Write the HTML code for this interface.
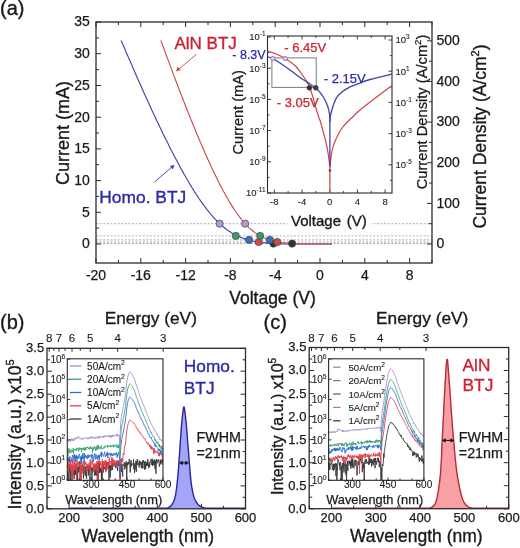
<!DOCTYPE html>
<html><head><meta charset="utf-8"><style>
html,body{margin:0;padding:0;background:#fff;}
svg{display:block;font-family:"Liberation Sans", Arial, sans-serif;}
</style></head><body>
<svg width="520" height="548" viewBox="0 0 520 548">
<rect width="520" height="548" fill="#fff"/>
<text x="0" y="14.6" font-size="20" text-anchor="start" fill="#1a1a1a" stroke="#1a1a1a" stroke-width="0.35">(a)</text>
<line x1="96" y1="223.7" x2="432" y2="223.7" stroke="#b8a6c0" stroke-width="1" stroke-dasharray="2,1.6"/>
<line x1="96" y1="235.9" x2="432" y2="235.9" stroke="#a8b4b4" stroke-width="1" stroke-dasharray="2,1.6"/>
<line x1="96" y1="239.9" x2="432" y2="239.9" stroke="#a8acbc" stroke-width="1" stroke-dasharray="2,1.6"/>
<line x1="96" y1="242" x2="432" y2="242" stroke="#b8a4a4" stroke-width="1" stroke-dasharray="2,1.6"/>
<line x1="96" y1="243.6" x2="432" y2="243.6" stroke="#a0a0a0" stroke-width="1" stroke-dasharray="2,1.6"/>
<line x1="96" y1="244" x2="101" y2="244" stroke="#2b2b2b" stroke-width="1"/>
<line x1="96" y1="228.1" x2="99" y2="228.1" stroke="#2b2b2b" stroke-width="1"/>
<line x1="96" y1="212.3" x2="101" y2="212.3" stroke="#2b2b2b" stroke-width="1"/>
<line x1="96" y1="196.4" x2="99" y2="196.4" stroke="#2b2b2b" stroke-width="1"/>
<line x1="96" y1="180.6" x2="101" y2="180.6" stroke="#2b2b2b" stroke-width="1"/>
<line x1="96" y1="164.7" x2="99" y2="164.7" stroke="#2b2b2b" stroke-width="1"/>
<line x1="96" y1="148.9" x2="101" y2="148.9" stroke="#2b2b2b" stroke-width="1"/>
<line x1="96" y1="133" x2="99" y2="133" stroke="#2b2b2b" stroke-width="1"/>
<line x1="96" y1="117.2" x2="101" y2="117.2" stroke="#2b2b2b" stroke-width="1"/>
<line x1="96" y1="101.3" x2="99" y2="101.3" stroke="#2b2b2b" stroke-width="1"/>
<line x1="96" y1="85.5" x2="101" y2="85.5" stroke="#2b2b2b" stroke-width="1"/>
<line x1="96" y1="69.6" x2="99" y2="69.6" stroke="#2b2b2b" stroke-width="1"/>
<line x1="96" y1="53.7" x2="101" y2="53.7" stroke="#2b2b2b" stroke-width="1"/>
<line x1="96" y1="37.9" x2="99" y2="37.9" stroke="#2b2b2b" stroke-width="1"/>
<line x1="96" y1="22" x2="101" y2="22" stroke="#2b2b2b" stroke-width="1"/>
<line x1="96" y1="263" x2="96" y2="258" stroke="#2b2b2b" stroke-width="1"/>
<line x1="96" y1="22" x2="96" y2="27" stroke="#2b2b2b" stroke-width="1"/>
<line x1="118.4" y1="263" x2="118.4" y2="260" stroke="#2b2b2b" stroke-width="1"/>
<line x1="118.4" y1="22" x2="118.4" y2="25" stroke="#2b2b2b" stroke-width="1"/>
<line x1="140.8" y1="263" x2="140.8" y2="258" stroke="#2b2b2b" stroke-width="1"/>
<line x1="140.8" y1="22" x2="140.8" y2="27" stroke="#2b2b2b" stroke-width="1"/>
<line x1="163.2" y1="263" x2="163.2" y2="260" stroke="#2b2b2b" stroke-width="1"/>
<line x1="163.2" y1="22" x2="163.2" y2="25" stroke="#2b2b2b" stroke-width="1"/>
<line x1="185.6" y1="263" x2="185.6" y2="258" stroke="#2b2b2b" stroke-width="1"/>
<line x1="185.6" y1="22" x2="185.6" y2="27" stroke="#2b2b2b" stroke-width="1"/>
<line x1="208" y1="263" x2="208" y2="260" stroke="#2b2b2b" stroke-width="1"/>
<line x1="208" y1="22" x2="208" y2="25" stroke="#2b2b2b" stroke-width="1"/>
<line x1="230.4" y1="263" x2="230.4" y2="258" stroke="#2b2b2b" stroke-width="1"/>
<line x1="230.4" y1="22" x2="230.4" y2="27" stroke="#2b2b2b" stroke-width="1"/>
<line x1="252.8" y1="263" x2="252.8" y2="260" stroke="#2b2b2b" stroke-width="1"/>
<line x1="252.8" y1="22" x2="252.8" y2="25" stroke="#2b2b2b" stroke-width="1"/>
<line x1="275.2" y1="263" x2="275.2" y2="258" stroke="#2b2b2b" stroke-width="1"/>
<line x1="275.2" y1="22" x2="275.2" y2="27" stroke="#2b2b2b" stroke-width="1"/>
<line x1="297.6" y1="263" x2="297.6" y2="260" stroke="#2b2b2b" stroke-width="1"/>
<line x1="297.6" y1="22" x2="297.6" y2="25" stroke="#2b2b2b" stroke-width="1"/>
<line x1="320" y1="263" x2="320" y2="258" stroke="#2b2b2b" stroke-width="1"/>
<line x1="320" y1="22" x2="320" y2="27" stroke="#2b2b2b" stroke-width="1"/>
<line x1="342.4" y1="263" x2="342.4" y2="260" stroke="#2b2b2b" stroke-width="1"/>
<line x1="342.4" y1="22" x2="342.4" y2="25" stroke="#2b2b2b" stroke-width="1"/>
<line x1="364.8" y1="263" x2="364.8" y2="258" stroke="#2b2b2b" stroke-width="1"/>
<line x1="364.8" y1="22" x2="364.8" y2="27" stroke="#2b2b2b" stroke-width="1"/>
<line x1="387.2" y1="263" x2="387.2" y2="260" stroke="#2b2b2b" stroke-width="1"/>
<line x1="387.2" y1="22" x2="387.2" y2="25" stroke="#2b2b2b" stroke-width="1"/>
<line x1="409.6" y1="263" x2="409.6" y2="258" stroke="#2b2b2b" stroke-width="1"/>
<line x1="409.6" y1="22" x2="409.6" y2="27" stroke="#2b2b2b" stroke-width="1"/>
<line x1="432" y1="263" x2="432" y2="260" stroke="#2b2b2b" stroke-width="1"/>
<line x1="432" y1="22" x2="432" y2="25" stroke="#2b2b2b" stroke-width="1"/>
<line x1="432" y1="244" x2="427" y2="244" stroke="#2b2b2b" stroke-width="1"/>
<line x1="432" y1="223.7" x2="429" y2="223.7" stroke="#2b2b2b" stroke-width="1"/>
<line x1="432" y1="203.4" x2="427" y2="203.4" stroke="#2b2b2b" stroke-width="1"/>
<line x1="432" y1="183.1" x2="429" y2="183.1" stroke="#2b2b2b" stroke-width="1"/>
<line x1="432" y1="162.7" x2="427" y2="162.7" stroke="#2b2b2b" stroke-width="1"/>
<line x1="432" y1="142.4" x2="429" y2="142.4" stroke="#2b2b2b" stroke-width="1"/>
<line x1="432" y1="122.1" x2="427" y2="122.1" stroke="#2b2b2b" stroke-width="1"/>
<line x1="432" y1="101.8" x2="429" y2="101.8" stroke="#2b2b2b" stroke-width="1"/>
<line x1="432" y1="81.5" x2="427" y2="81.5" stroke="#2b2b2b" stroke-width="1"/>
<line x1="432" y1="61.2" x2="429" y2="61.2" stroke="#2b2b2b" stroke-width="1"/>
<line x1="432" y1="40.8" x2="427" y2="40.8" stroke="#2b2b2b" stroke-width="1"/>
<rect x="96" y="22" width="336" height="241" fill="none" stroke="#2b2b2b" stroke-width="1.3"/>
<text x="89.8" y="248.3" font-size="14" text-anchor="end" fill="#1a1a1a" stroke="#1a1a1a" stroke-width="0.25">0</text>
<text x="89.8" y="216.6" font-size="14" text-anchor="end" fill="#1a1a1a" stroke="#1a1a1a" stroke-width="0.25">5</text>
<text x="89.8" y="184.9" font-size="14" text-anchor="end" fill="#1a1a1a" stroke="#1a1a1a" stroke-width="0.25">10</text>
<text x="89.8" y="153.2" font-size="14" text-anchor="end" fill="#1a1a1a" stroke="#1a1a1a" stroke-width="0.25">15</text>
<text x="89.8" y="121.5" font-size="14" text-anchor="end" fill="#1a1a1a" stroke="#1a1a1a" stroke-width="0.25">20</text>
<text x="89.8" y="89.8" font-size="14" text-anchor="end" fill="#1a1a1a" stroke="#1a1a1a" stroke-width="0.25">25</text>
<text x="89.8" y="58" font-size="14" text-anchor="end" fill="#1a1a1a" stroke="#1a1a1a" stroke-width="0.25">30</text>
<text x="89.8" y="26.3" font-size="14" text-anchor="end" fill="#1a1a1a" stroke="#1a1a1a" stroke-width="0.25">35</text>
<text x="96" y="280.4" font-size="14" text-anchor="middle" fill="#1a1a1a" stroke="#1a1a1a" stroke-width="0.25">-20</text>
<text x="140.8" y="280.4" font-size="14" text-anchor="middle" fill="#1a1a1a" stroke="#1a1a1a" stroke-width="0.25">-16</text>
<text x="185.6" y="280.4" font-size="14" text-anchor="middle" fill="#1a1a1a" stroke="#1a1a1a" stroke-width="0.25">-12</text>
<text x="230.4" y="280.4" font-size="14" text-anchor="middle" fill="#1a1a1a" stroke="#1a1a1a" stroke-width="0.25">-8</text>
<text x="275.2" y="280.4" font-size="14" text-anchor="middle" fill="#1a1a1a" stroke="#1a1a1a" stroke-width="0.25">-4</text>
<text x="320" y="280.4" font-size="14" text-anchor="middle" fill="#1a1a1a" stroke="#1a1a1a" stroke-width="0.25">0</text>
<text x="364.8" y="280.4" font-size="14" text-anchor="middle" fill="#1a1a1a" stroke="#1a1a1a" stroke-width="0.25">4</text>
<text x="409.6" y="280.4" font-size="14" text-anchor="middle" fill="#1a1a1a" stroke="#1a1a1a" stroke-width="0.25">8</text>
<text x="436.5" y="248.3" font-size="14" text-anchor="start" fill="#1a1a1a" stroke="#1a1a1a" stroke-width="0.25">0</text>
<text x="436.5" y="207.7" font-size="14" text-anchor="start" fill="#1a1a1a" stroke="#1a1a1a" stroke-width="0.25">100</text>
<text x="436.5" y="167" font-size="14" text-anchor="start" fill="#1a1a1a" stroke="#1a1a1a" stroke-width="0.25">200</text>
<text x="436.5" y="126.4" font-size="14" text-anchor="start" fill="#1a1a1a" stroke="#1a1a1a" stroke-width="0.25">300</text>
<text x="436.5" y="85.8" font-size="14" text-anchor="start" fill="#1a1a1a" stroke="#1a1a1a" stroke-width="0.25">400</text>
<text x="436.5" y="45.1" font-size="14" text-anchor="start" fill="#1a1a1a" stroke="#1a1a1a" stroke-width="0.25">500</text>
<text x="68.5" y="133" font-size="18" text-anchor="middle" fill="#1a1a1a" stroke="#1a1a1a" stroke-width="0.35" transform="rotate(-90 68.5 133)">Current (mA)</text>
<text x="272.5" y="303.7" font-size="17.5" text-anchor="middle" fill="#1a1a1a" stroke="#1a1a1a" stroke-width="0.35">Voltage (V)</text>
<text x="485.5" y="136.5" font-size="17.5" text-anchor="middle" fill="#1a1a1a" stroke="#1a1a1a" stroke-width="0.35" transform="rotate(-90 485.5 136.5)">Current Density (A/cm<tspan font-size="11" dy="-7">2</tspan><tspan dy="7">)</tspan></text>
<path d="M121.1,40.4 L122.7,44.1 L124.3,47.8 L125.8,51.4 L127.4,55 L128.9,58.6 L130.5,62.1 L132,65.6 L133.5,69.1 L135,72.5 L136.5,75.9 L137.9,79.2 L139.4,82.5 L140.9,85.8 L142.3,89 L143.7,92.2 L145.2,95.4 L146.6,98.5 L148,101.6 L149.4,104.7 L150.8,107.7 L152.1,110.7 L153.5,113.6 L154.9,116.5 L156.2,119.4 L157.6,122.2 L158.9,125 L160.2,127.8 L161.5,130.5 L162.8,133.2 L164.1,135.9 L165.4,138.5 L166.7,141.1 L168,143.6 L169.2,146.2 L170.5,148.7 L171.7,151.1 L173,153.5 L174.2,155.9 L175.4,158.2 L176.7,160.6 L177.9,162.8 L179.1,165.1 L180.3,167.3 L181.5,169.5 L182.7,171.6 L183.8,173.7 L185,175.8 L186.2,177.8 L187.3,179.8 L188.5,181.8 L189.7,183.7 L190.8,185.6 L191.9,187.5 L193.1,189.4 L194.2,191.2 L195.3,192.9 L196.5,194.7 L197.6,196.4 L198.7,198 L199.8,199.7 L200.9,201.3 L202,202.9 L203.2,204.4 L204.3,205.9 L205.4,207.4 L206.5,208.9 L207.6,210.3 L208.7,211.7 L209.8,213 L210.9,214.3 L212,215.6 L213.1,216.9 L214.2,218.1 L215.3,219.3 L216.5,220.5 L217.6,221.6 L218.7,222.7 L219.9,223.8 L221,224.8 L222.1,225.8 L223.3,226.8 L224.5,227.8 L225.6,228.7 L226.8,229.6 L228,230.5 L229.2,231.3 L230.5,232.1 L231.7,232.9 L233,233.6 L234.3,234.4 L235.6,235 L236.9,235.7 L238.3,236.4 L239.6,237 L241,237.5 L242.5,238.1 L244,238.6 L245.5,239.1 L247,239.6 L248.6,240 L250.2,240.5 L251.9,240.9 L253.7,241.2 L255.5,241.6 L257.3,241.9 L259.2,242.2 L261.2,242.5 L263.2,242.7 L265.3,242.9 L267.4,243.1 L269.5,243.3 L271.7,243.5 L273.8,243.6 L275.8,243.7 L277.7,243.8 L279.4,243.9 L280.8,243.9 L281.7,244 L282.3,244 L282.5,244 L332,244" fill="none" stroke="#4242aa" stroke-width="1.15" stroke-linejoin="round"/>
<path d="M160.9,40.4 L162.2,44.1 L163.6,47.8 L164.9,51.4 L166.2,55 L167.6,58.6 L168.9,62.1 L170.2,65.6 L171.5,69.1 L172.7,72.5 L174,75.9 L175.3,79.2 L176.5,82.5 L177.8,85.8 L179,89 L180.2,92.2 L181.5,95.4 L182.7,98.5 L183.9,101.6 L185.1,104.7 L186.3,107.7 L187.4,110.7 L188.6,113.6 L189.8,116.5 L190.9,119.4 L192.1,122.2 L193.2,125 L194.4,127.8 L195.5,130.5 L196.6,133.2 L197.7,135.9 L198.8,138.5 L199.9,141.1 L201,143.6 L202.1,146.2 L203.2,148.7 L204.2,151.1 L205.3,153.5 L206.3,155.9 L207.4,158.2 L208.4,160.6 L209.5,162.8 L210.5,165.1 L211.5,167.3 L212.5,169.5 L213.6,171.6 L214.6,173.7 L215.6,175.8 L216.6,177.8 L217.6,179.8 L218.5,181.8 L219.5,183.7 L220.5,185.6 L221.5,187.5 L222.5,189.4 L223.4,191.2 L224.4,192.9 L225.3,194.7 L226.3,196.4 L227.3,198 L228.2,199.7 L229.2,201.3 L230.1,202.9 L231.1,204.4 L232,205.9 L232.9,207.4 L233.9,208.9 L234.8,210.3 L235.8,211.7 L236.7,213 L237.6,214.3 L238.6,215.6 L239.5,216.9 L240.5,218.1 L241.4,219.3 L242.4,220.5 L243.3,221.6 L244.3,222.7 L245.3,223.8 L246.2,224.8 L247.2,225.8 L248.2,226.8 L249.2,227.8 L250.2,228.7 L251.2,229.6 L252.2,230.5 L253.3,231.3 L254.3,232.1 L255.4,232.9 L256.5,233.6 L257.6,234.4 L258.7,235 L259.8,235.7 L260.9,236.4 L262.1,237 L263.3,237.5 L264.6,238.1 L265.8,238.6 L267.1,239.1 L268.4,239.6 L269.8,240 L271.2,240.5 L272.7,240.9 L274.2,241.2 L275.7,241.6 L277.3,241.9 L279,242.2 L280.7,242.5 L282.5,242.7 L284.4,242.9 L286.2,243.1 L288.2,243.3 L290.2,243.5 L292.1,243.6 L294,243.7 L295.8,243.8 L297.5,243.9 L298.8,243.9 L299.8,244 L300.3,244 L300.5,244 L332,244" fill="none" stroke="#cc4448" stroke-width="1.1" stroke-linejoin="round"/>
<circle cx="219.6" cy="223.7" r="3.6" fill="#b49ad8" stroke="#444" stroke-width="0.7"/>
<circle cx="235.8" cy="235.9" r="3.6" fill="#3d9a66" stroke="#444" stroke-width="0.7"/>
<circle cx="249.1" cy="239.9" r="3.6" fill="#3b6fc4" stroke="#444" stroke-width="0.7"/>
<circle cx="258.7" cy="242" r="3.6" fill="#d6454a" stroke="#444" stroke-width="0.7"/>
<circle cx="273.4" cy="243.6" r="3.6" fill="#333333" stroke="#444" stroke-width="0.7"/>
<circle cx="245.2" cy="223.7" r="3.6" fill="#b49ad8" stroke="#444" stroke-width="0.7"/>
<circle cx="260.2" cy="235.9" r="3.6" fill="#3d9a66" stroke="#444" stroke-width="0.7"/>
<circle cx="269.8" cy="239.9" r="3.6" fill="#3b6fc4" stroke="#444" stroke-width="0.7"/>
<circle cx="277.3" cy="242" r="3.6" fill="#d6454a" stroke="#444" stroke-width="0.7"/>
<circle cx="292.1" cy="243.6" r="3.6" fill="#333333" stroke="#444" stroke-width="0.7"/>
<text x="174.5" y="49.2" font-size="17" text-anchor="start" fill="#cc2230" stroke="#cc2230" stroke-width="0.35">AlN BTJ</text>
<line x1="196.5" y1="54.2" x2="178.5" y2="69.4" stroke="#cc4448" stroke-width="0.9"/>
<path d="M176.5,71.1 L177.6,67.0 L180.3,70.0 Z" fill="#cc4448" stroke="#cc4448" stroke-width="0.5" stroke-linejoin="round"/>
<text x="99.3" y="202.6" font-size="17.4" text-anchor="start" fill="#2a2aa8" stroke="#2a2aa8" stroke-width="0.35">Homo. BTJ</text>
<line x1="154.4" y1="182.2" x2="172.2" y2="166.8" stroke="#4040a0" stroke-width="0.9"/>
<path d="M174.1,165.2 L170.3,166.2 L172.9,169.0 Z" fill="#4040a0" stroke="#4040a0" stroke-width="0.5" stroke-linejoin="round"/>
<rect x="287.5" y="210.5" width="83.5" height="17.5" fill="#fff"/>
<line x1="267.5" y1="193" x2="271" y2="193" stroke="#2b2b2b" stroke-width="0.9"/>
<line x1="267.5" y1="177.4" x2="269.5" y2="177.4" stroke="#2b2b2b" stroke-width="0.9"/>
<line x1="267.5" y1="161.8" x2="271" y2="161.8" stroke="#2b2b2b" stroke-width="0.9"/>
<line x1="267.5" y1="146.2" x2="269.5" y2="146.2" stroke="#2b2b2b" stroke-width="0.9"/>
<line x1="267.5" y1="130.6" x2="271" y2="130.6" stroke="#2b2b2b" stroke-width="0.9"/>
<line x1="267.5" y1="115" x2="269.5" y2="115" stroke="#2b2b2b" stroke-width="0.9"/>
<line x1="267.5" y1="99.4" x2="271" y2="99.4" stroke="#2b2b2b" stroke-width="0.9"/>
<line x1="267.5" y1="83.8" x2="269.5" y2="83.8" stroke="#2b2b2b" stroke-width="0.9"/>
<line x1="267.5" y1="68.2" x2="271" y2="68.2" stroke="#2b2b2b" stroke-width="0.9"/>
<line x1="267.5" y1="52.6" x2="269.5" y2="52.6" stroke="#2b2b2b" stroke-width="0.9"/>
<line x1="267.5" y1="37" x2="271" y2="37" stroke="#2b2b2b" stroke-width="0.9"/>
<line x1="274.3" y1="193" x2="274.3" y2="189.5" stroke="#2b2b2b" stroke-width="0.9"/>
<line x1="274.3" y1="36" x2="274.3" y2="39.5" stroke="#2b2b2b" stroke-width="0.9"/>
<line x1="288.1" y1="193" x2="288.1" y2="191" stroke="#2b2b2b" stroke-width="0.9"/>
<line x1="288.1" y1="36" x2="288.1" y2="38" stroke="#2b2b2b" stroke-width="0.9"/>
<line x1="302" y1="193" x2="302" y2="189.5" stroke="#2b2b2b" stroke-width="0.9"/>
<line x1="302" y1="36" x2="302" y2="39.5" stroke="#2b2b2b" stroke-width="0.9"/>
<line x1="315.8" y1="193" x2="315.8" y2="191" stroke="#2b2b2b" stroke-width="0.9"/>
<line x1="315.8" y1="36" x2="315.8" y2="38" stroke="#2b2b2b" stroke-width="0.9"/>
<line x1="329.7" y1="193" x2="329.7" y2="189.5" stroke="#2b2b2b" stroke-width="0.9"/>
<line x1="329.7" y1="36" x2="329.7" y2="39.5" stroke="#2b2b2b" stroke-width="0.9"/>
<line x1="343.6" y1="193" x2="343.6" y2="191" stroke="#2b2b2b" stroke-width="0.9"/>
<line x1="343.6" y1="36" x2="343.6" y2="38" stroke="#2b2b2b" stroke-width="0.9"/>
<line x1="357.4" y1="193" x2="357.4" y2="189.5" stroke="#2b2b2b" stroke-width="0.9"/>
<line x1="357.4" y1="36" x2="357.4" y2="39.5" stroke="#2b2b2b" stroke-width="0.9"/>
<line x1="371.3" y1="193" x2="371.3" y2="191" stroke="#2b2b2b" stroke-width="0.9"/>
<line x1="371.3" y1="36" x2="371.3" y2="38" stroke="#2b2b2b" stroke-width="0.9"/>
<line x1="385.1" y1="193" x2="385.1" y2="189.5" stroke="#2b2b2b" stroke-width="0.9"/>
<line x1="385.1" y1="36" x2="385.1" y2="39.5" stroke="#2b2b2b" stroke-width="0.9"/>
<line x1="392" y1="180.4" x2="390" y2="180.4" stroke="#2b2b2b" stroke-width="0.9"/>
<line x1="392" y1="164.8" x2="388.5" y2="164.8" stroke="#2b2b2b" stroke-width="0.9"/>
<line x1="392" y1="149.2" x2="390" y2="149.2" stroke="#2b2b2b" stroke-width="0.9"/>
<line x1="392" y1="133.6" x2="388.5" y2="133.6" stroke="#2b2b2b" stroke-width="0.9"/>
<line x1="392" y1="118" x2="390" y2="118" stroke="#2b2b2b" stroke-width="0.9"/>
<line x1="392" y1="102.4" x2="388.5" y2="102.4" stroke="#2b2b2b" stroke-width="0.9"/>
<line x1="392" y1="86.8" x2="390" y2="86.8" stroke="#2b2b2b" stroke-width="0.9"/>
<line x1="392" y1="71.2" x2="388.5" y2="71.2" stroke="#2b2b2b" stroke-width="0.9"/>
<line x1="392" y1="55.6" x2="390" y2="55.6" stroke="#2b2b2b" stroke-width="0.9"/>
<line x1="392" y1="40" x2="388.5" y2="40" stroke="#2b2b2b" stroke-width="0.9"/>
<rect x="267.5" y="36" width="124.5" height="157" fill="none" stroke="#2b2b2b" stroke-width="1.1"/>
<text x="265.5" y="40.4" font-size="9.5" text-anchor="end" fill="#1a1a1a" stroke="#1a1a1a" stroke-width="0.1">10<tspan font-size="6.5" dy="-4">-1</tspan></text>
<text x="265.5" y="71.6" font-size="9.5" text-anchor="end" fill="#1a1a1a" stroke="#1a1a1a" stroke-width="0.1">10<tspan font-size="6.5" dy="-4">-3</tspan></text>
<text x="265.5" y="102.8" font-size="9.5" text-anchor="end" fill="#1a1a1a" stroke="#1a1a1a" stroke-width="0.1">10<tspan font-size="6.5" dy="-4">-5</tspan></text>
<text x="265.5" y="134" font-size="9.5" text-anchor="end" fill="#1a1a1a" stroke="#1a1a1a" stroke-width="0.1">10<tspan font-size="6.5" dy="-4">-7</tspan></text>
<text x="265.5" y="165.2" font-size="9.5" text-anchor="end" fill="#1a1a1a" stroke="#1a1a1a" stroke-width="0.1">10<tspan font-size="6.5" dy="-4">-9</tspan></text>
<text x="265.5" y="196.4" font-size="9.5" text-anchor="end" fill="#1a1a1a" stroke="#1a1a1a" stroke-width="0.1">10<tspan font-size="6.5" dy="-4">-11</tspan></text>
<text x="274.3" y="204.5" font-size="9.5" text-anchor="middle" fill="#1a1a1a" stroke="#1a1a1a" stroke-width="0.1">-8</text>
<text x="302" y="204.5" font-size="9.5" text-anchor="middle" fill="#1a1a1a" stroke="#1a1a1a" stroke-width="0.1">-4</text>
<text x="329.7" y="204.5" font-size="9.5" text-anchor="middle" fill="#1a1a1a" stroke="#1a1a1a" stroke-width="0.1">0</text>
<text x="357.4" y="204.5" font-size="9.5" text-anchor="middle" fill="#1a1a1a" stroke="#1a1a1a" stroke-width="0.1">4</text>
<text x="385.1" y="204.5" font-size="9.5" text-anchor="middle" fill="#1a1a1a" stroke="#1a1a1a" stroke-width="0.1">8</text>
<text x="395.5" y="43.4" font-size="9.5" text-anchor="start" fill="#1a1a1a" stroke="#1a1a1a" stroke-width="0.1">10<tspan font-size="6.5" dy="-4">3</tspan></text>
<text x="395.5" y="74.6" font-size="9.5" text-anchor="start" fill="#1a1a1a" stroke="#1a1a1a" stroke-width="0.1">10<tspan font-size="6.5" dy="-4">1</tspan></text>
<text x="395.5" y="105.8" font-size="9.5" text-anchor="start" fill="#1a1a1a" stroke="#1a1a1a" stroke-width="0.1">10<tspan font-size="6.5" dy="-4">-1</tspan></text>
<text x="395.5" y="137" font-size="9.5" text-anchor="start" fill="#1a1a1a" stroke="#1a1a1a" stroke-width="0.1">10<tspan font-size="6.5" dy="-4">-3</tspan></text>
<text x="395.5" y="168.2" font-size="9.5" text-anchor="start" fill="#1a1a1a" stroke="#1a1a1a" stroke-width="0.1">10<tspan font-size="6.5" dy="-4">-5</tspan></text>
<text x="243.5" y="112.3" font-size="14.6" text-anchor="middle" fill="#1a1a1a" stroke="#1a1a1a" stroke-width="0.25" transform="rotate(-90 243.5 112.3)">Current (mA)</text>
<text x="328.9" y="225.8" font-size="15" text-anchor="middle" fill="#1a1a1a" stroke="#1a1a1a" stroke-width="0.35">Voltage <tspan dx="1.6">(V)</tspan></text>
<text x="427" y="112" font-size="14.7" text-anchor="middle" fill="#1a1a1a" stroke="#1a1a1a" stroke-width="0.25" transform="rotate(-90 427 112)">Current Density (A/cm<tspan font-size="9.5" dy="-6">2</tspan><tspan dy="6">)</tspan></text>
<path d="M267.5,51.2 C268.8,51.6 272.1,52.3 275,53.5 C277.9,54.7 281.9,56.5 285.2,58.5 C288.5,60.5 292.4,63.1 295,65.5 C297.6,67.9 299,70.3 301,73 C303,75.7 305.4,79.4 306.9,81.9 C308.4,84.4 309,85.8 310,88.2 C311,90.6 311.8,93.4 312.7,96.4 C313.6,99.5 314.6,103.3 315.5,106.5 C316.4,109.7 317.4,113 318.2,115.6 C319,118.2 319.6,119 320.5,122 C321.4,125 322.6,129.5 323.7,133.7 C324.8,137.9 326.2,142.8 327.1,147.4 C328,152 328.7,157.3 329.2,161.1 C329.7,164.9 329.8,168.5 329.9,170 L329.9,170 C330,169 330,166.9 330.3,163.8 C330.6,160.7 331.2,155.2 331.9,151.5 C332.6,147.8 333.3,145.3 334.7,141.9 C336.1,138.5 338.5,133.8 340.1,131 C341.7,128.2 342.7,127.1 344.5,125 C346.3,122.9 348.4,121 351,118.5 C353.6,116 356.6,112.9 360,110 C363.4,107.1 367.8,103.7 371.5,100.9 C375.2,98.1 378.6,95.6 382,93 C385.4,90.4 390.3,86.8 392,85.5" fill="none" stroke="#cc4448" stroke-width="1.2" stroke-linejoin="round"/>
<line x1="329.9" y1="170" x2="329.9" y2="193" stroke="#cc4448" stroke-width="1.3"/>
<path d="M267.5,56.9 C268.4,57.2 270.7,57.5 272.8,58.5 C274.9,59.5 277.1,61.1 280,63 C282.9,64.9 286.7,67.6 290,70 C293.3,72.4 297.2,75.5 300,77.5 C302.8,79.5 304.2,80.2 306.9,81.9 C309.5,83.7 313.5,86 315.9,88 C318.2,90 319.6,91.8 321,93.7 C322.4,95.6 323.5,97.2 324.6,99.2 C325.7,101.2 326.6,103.5 327.4,105.6 C328.2,107.7 328.8,109.9 329.2,112 C329.6,114.1 329.7,115.8 329.8,118 C329.9,120.2 329.9,117 329.9,125 C329.9,133 329.9,159.2 329.9,166" fill="none" stroke="#4242aa" stroke-width="1.3" stroke-linejoin="round"/>
<path d="M329.9,122 C330,121 330.1,118 330.4,116 C330.7,114 331.3,112.2 331.9,110 C332.5,107.8 333.3,105.1 334.2,102.8 C335.1,100.5 336.1,98.2 337.4,96.4 C338.7,94.6 340.2,93.3 342,91.9 C343.8,90.5 345.4,89.3 348.4,87.8 C351.4,86.3 356.4,84.4 360,83 C363.6,81.6 364.7,81 370,79.5 C375.3,78 388.3,74.9 392,74" fill="none" stroke="#4242aa" stroke-width="1.3" stroke-linejoin="round"/>
<circle cx="329.9" cy="170.5" r="1.2" fill="#a02030" stroke="none" stroke-width="0"/>
<rect x="271.9" y="57.9" width="44.3" height="29.5" fill="none" stroke="#7a7a7a" stroke-width="1"/>
<circle cx="272.8" cy="58.5" r="2.2" fill="#d8c8f0" stroke="#8a6ab8" stroke-width="0.8"/>
<circle cx="285.2" cy="58.5" r="2.2" fill="#d8c8f0" stroke="#8a6ab8" stroke-width="0.8"/>
<circle cx="309.4" cy="87.8" r="2.4" fill="#333" stroke="#222" stroke-width="0.6"/>
<circle cx="315.8" cy="87.8" r="2.4" fill="#3a4050" stroke="#222" stroke-width="0.6"/>
<text x="284.3" y="51.5" font-size="13" text-anchor="start" fill="#cc2230" stroke="#cc2230" stroke-width="0.25">- 6.45V</text>
<text x="232.3" y="59.4" font-size="12.5" text-anchor="start" fill="#2a2aa8" stroke="#2a2aa8" stroke-width="0.25"><tspan fill="#333" stroke="#333">-</tspan> 8.3V</text>
<text x="323.8" y="83" font-size="13" text-anchor="start" fill="#2a2aa8" stroke="#2a2aa8" stroke-width="0.25">- 2.15V</text>
<text x="276.7" y="106.5" font-size="13" text-anchor="start" fill="#cc2230" stroke="#cc2230" stroke-width="0.25">- 3.05V</text>
<text x="0" y="328.5" font-size="20" text-anchor="start" fill="#1a1a1a" stroke="#1a1a1a" stroke-width="0.35">(b)</text>
<line x1="47" y1="508.8" x2="52" y2="508.8" stroke="#2b2b2b" stroke-width="1"/>
<line x1="245.5" y1="508.8" x2="240.5" y2="508.8" stroke="#2b2b2b" stroke-width="1"/>
<line x1="47" y1="497.3" x2="50" y2="497.3" stroke="#2b2b2b" stroke-width="1"/>
<line x1="245.5" y1="497.3" x2="242.5" y2="497.3" stroke="#2b2b2b" stroke-width="1"/>
<line x1="47" y1="485.9" x2="52" y2="485.9" stroke="#2b2b2b" stroke-width="1"/>
<line x1="245.5" y1="485.9" x2="240.5" y2="485.9" stroke="#2b2b2b" stroke-width="1"/>
<line x1="47" y1="474.4" x2="50" y2="474.4" stroke="#2b2b2b" stroke-width="1"/>
<line x1="245.5" y1="474.4" x2="242.5" y2="474.4" stroke="#2b2b2b" stroke-width="1"/>
<line x1="47" y1="462.9" x2="52" y2="462.9" stroke="#2b2b2b" stroke-width="1"/>
<line x1="245.5" y1="462.9" x2="240.5" y2="462.9" stroke="#2b2b2b" stroke-width="1"/>
<line x1="47" y1="451.5" x2="50" y2="451.5" stroke="#2b2b2b" stroke-width="1"/>
<line x1="245.5" y1="451.5" x2="242.5" y2="451.5" stroke="#2b2b2b" stroke-width="1"/>
<line x1="47" y1="440" x2="52" y2="440" stroke="#2b2b2b" stroke-width="1"/>
<line x1="245.5" y1="440" x2="240.5" y2="440" stroke="#2b2b2b" stroke-width="1"/>
<line x1="47" y1="428.6" x2="50" y2="428.6" stroke="#2b2b2b" stroke-width="1"/>
<line x1="245.5" y1="428.6" x2="242.5" y2="428.6" stroke="#2b2b2b" stroke-width="1"/>
<line x1="47" y1="417.1" x2="52" y2="417.1" stroke="#2b2b2b" stroke-width="1"/>
<line x1="245.5" y1="417.1" x2="240.5" y2="417.1" stroke="#2b2b2b" stroke-width="1"/>
<line x1="47" y1="405.6" x2="50" y2="405.6" stroke="#2b2b2b" stroke-width="1"/>
<line x1="245.5" y1="405.6" x2="242.5" y2="405.6" stroke="#2b2b2b" stroke-width="1"/>
<line x1="47" y1="394.2" x2="52" y2="394.2" stroke="#2b2b2b" stroke-width="1"/>
<line x1="245.5" y1="394.2" x2="240.5" y2="394.2" stroke="#2b2b2b" stroke-width="1"/>
<line x1="47" y1="382.7" x2="50" y2="382.7" stroke="#2b2b2b" stroke-width="1"/>
<line x1="245.5" y1="382.7" x2="242.5" y2="382.7" stroke="#2b2b2b" stroke-width="1"/>
<line x1="47" y1="371.2" x2="52" y2="371.2" stroke="#2b2b2b" stroke-width="1"/>
<line x1="245.5" y1="371.2" x2="240.5" y2="371.2" stroke="#2b2b2b" stroke-width="1"/>
<line x1="47" y1="359.8" x2="50" y2="359.8" stroke="#2b2b2b" stroke-width="1"/>
<line x1="245.5" y1="359.8" x2="242.5" y2="359.8" stroke="#2b2b2b" stroke-width="1"/>
<line x1="47" y1="348.3" x2="52" y2="348.3" stroke="#2b2b2b" stroke-width="1"/>
<line x1="245.5" y1="348.3" x2="240.5" y2="348.3" stroke="#2b2b2b" stroke-width="1"/>
<line x1="47" y1="508.8" x2="47" y2="505.8" stroke="#2b2b2b" stroke-width="1"/>
<line x1="69.1" y1="508.8" x2="69.1" y2="503.8" stroke="#2b2b2b" stroke-width="1"/>
<line x1="91.1" y1="508.8" x2="91.1" y2="505.8" stroke="#2b2b2b" stroke-width="1"/>
<line x1="113.2" y1="508.8" x2="113.2" y2="503.8" stroke="#2b2b2b" stroke-width="1"/>
<line x1="135.2" y1="508.8" x2="135.2" y2="505.8" stroke="#2b2b2b" stroke-width="1"/>
<line x1="157.3" y1="508.8" x2="157.3" y2="503.8" stroke="#2b2b2b" stroke-width="1"/>
<line x1="179.3" y1="508.8" x2="179.3" y2="505.8" stroke="#2b2b2b" stroke-width="1"/>
<line x1="201.4" y1="508.8" x2="201.4" y2="503.8" stroke="#2b2b2b" stroke-width="1"/>
<line x1="223.4" y1="508.8" x2="223.4" y2="505.8" stroke="#2b2b2b" stroke-width="1"/>
<line x1="245.5" y1="508.8" x2="245.5" y2="503.8" stroke="#2b2b2b" stroke-width="1"/>
<line x1="163.2" y1="348.3" x2="163.2" y2="351.8" stroke="#2b2b2b" stroke-width="1"/>
<line x1="137.1" y1="348.3" x2="137.1" y2="350.8" stroke="#2b2b2b" stroke-width="1"/>
<line x1="117.6" y1="348.3" x2="117.6" y2="351.8" stroke="#2b2b2b" stroke-width="1"/>
<line x1="102.4" y1="348.3" x2="102.4" y2="350.8" stroke="#2b2b2b" stroke-width="1"/>
<line x1="90.2" y1="348.3" x2="90.2" y2="351.8" stroke="#2b2b2b" stroke-width="1"/>
<line x1="80.3" y1="348.3" x2="80.3" y2="350.8" stroke="#2b2b2b" stroke-width="1"/>
<line x1="72" y1="348.3" x2="72" y2="351.8" stroke="#2b2b2b" stroke-width="1"/>
<line x1="65" y1="348.3" x2="65" y2="350.8" stroke="#2b2b2b" stroke-width="1"/>
<line x1="59" y1="348.3" x2="59" y2="351.8" stroke="#2b2b2b" stroke-width="1"/>
<line x1="53.8" y1="348.3" x2="53.8" y2="350.8" stroke="#2b2b2b" stroke-width="1"/>
<line x1="49.2" y1="348.3" x2="49.2" y2="351.8" stroke="#2b2b2b" stroke-width="1"/>
<text x="44.2" y="512.7" font-size="13" text-anchor="end" fill="#1a1a1a" stroke="#1a1a1a" stroke-width="0.25">0.0</text>
<text x="44.2" y="489.8" font-size="13" text-anchor="end" fill="#1a1a1a" stroke="#1a1a1a" stroke-width="0.25">0.5</text>
<text x="44.2" y="466.8" font-size="13" text-anchor="end" fill="#1a1a1a" stroke="#1a1a1a" stroke-width="0.25">1.0</text>
<text x="44.2" y="443.9" font-size="13" text-anchor="end" fill="#1a1a1a" stroke="#1a1a1a" stroke-width="0.25">1.5</text>
<text x="44.2" y="421" font-size="13" text-anchor="end" fill="#1a1a1a" stroke="#1a1a1a" stroke-width="0.25">2.0</text>
<text x="44.2" y="398.1" font-size="13" text-anchor="end" fill="#1a1a1a" stroke="#1a1a1a" stroke-width="0.25">2.5</text>
<text x="44.2" y="375.1" font-size="13" text-anchor="end" fill="#1a1a1a" stroke="#1a1a1a" stroke-width="0.25">3.0</text>
<text x="44.2" y="352.2" font-size="13" text-anchor="end" fill="#1a1a1a" stroke="#1a1a1a" stroke-width="0.25">3.5</text>
<text x="69.1" y="522" font-size="13" text-anchor="middle" fill="#1a1a1a" stroke="#1a1a1a" stroke-width="0.25">200</text>
<text x="113.2" y="522" font-size="13" text-anchor="middle" fill="#1a1a1a" stroke="#1a1a1a" stroke-width="0.25">300</text>
<text x="157.3" y="522" font-size="13" text-anchor="middle" fill="#1a1a1a" stroke="#1a1a1a" stroke-width="0.25">400</text>
<text x="201.4" y="522" font-size="13" text-anchor="middle" fill="#1a1a1a" stroke="#1a1a1a" stroke-width="0.25">500</text>
<text x="245.5" y="522" font-size="13" text-anchor="middle" fill="#1a1a1a" stroke="#1a1a1a" stroke-width="0.25">600</text>
<text x="49.2" y="341.5" font-size="11.5" text-anchor="middle" fill="#1a1a1a" stroke="#1a1a1a" stroke-width="0.1">8</text>
<text x="59" y="341.5" font-size="11.5" text-anchor="middle" fill="#1a1a1a" stroke="#1a1a1a" stroke-width="0.1">7</text>
<text x="72" y="341.5" font-size="11.5" text-anchor="middle" fill="#1a1a1a" stroke="#1a1a1a" stroke-width="0.1">6</text>
<text x="90.2" y="341.5" font-size="11.5" text-anchor="middle" fill="#1a1a1a" stroke="#1a1a1a" stroke-width="0.1">5</text>
<text x="117.6" y="341.5" font-size="11.5" text-anchor="middle" fill="#1a1a1a" stroke="#1a1a1a" stroke-width="0.1">4</text>
<text x="163.2" y="341.5" font-size="11.5" text-anchor="middle" fill="#1a1a1a" stroke="#1a1a1a" stroke-width="0.1">3</text>
<text x="150.8" y="324.3" font-size="17.3" text-anchor="middle" fill="#1a1a1a" stroke="#1a1a1a" stroke-width="0.35">Energy (eV)</text>
<text x="147.9" y="542.2" font-size="17.5" text-anchor="middle" fill="#1a1a1a" stroke="#1a1a1a" stroke-width="0.35">Wavelength (nm)</text>
<text x="20.5" y="509.5" font-size="17.5" text-anchor="start" fill="#1a1a1a" stroke="#1a1a1a" stroke-width="0.35" transform="rotate(-90 20.5 509.5)">Intensity (a.u.) x10<tspan font-size="11.025" dy="-7.0">5</tspan></text>
<path d="M148.5,508.8 L148.5,508.8 L148.7,508.8 L148.9,508.8 L149.1,508.8 L149.3,508.8 L149.6,508.8 L149.8,508.8 L150,508.8 L150.2,508.8 L150.4,508.8 L150.7,508.8 L150.9,508.8 L151.1,508.8 L151.3,508.8 L151.5,508.8 L151.8,508.8 L152,508.8 L152.2,508.8 L152.4,508.8 L152.6,508.8 L152.9,508.8 L153.1,508.8 L153.3,508.8 L153.5,508.8 L153.7,508.8 L154,508.8 L154.2,508.8 L154.4,508.8 L154.6,508.8 L154.9,508.8 L155.1,508.8 L155.3,508.8 L155.5,508.8 L155.7,508.8 L156,508.8 L156.2,508.8 L156.4,508.8 L156.6,508.8 L156.8,508.8 L157.1,508.8 L157.3,508.8 L157.5,508.8 L157.7,508.8 L157.9,508.8 L158.2,508.8 L158.4,508.8 L158.6,508.8 L158.8,508.8 L159,508.8 L159.3,508.8 L159.5,508.8 L159.7,508.8 L159.9,508.8 L160.1,508.8 L160.4,508.8 L160.6,508.8 L160.8,508.8 L161,508.8 L161.2,508.8 L161.5,508.8 L161.7,508.8 L161.9,508.7 L162.1,508.7 L162.4,508.7 L162.6,508.7 L162.8,508.7 L163,508.7 L163.2,508.7 L163.5,508.7 L163.7,508.7 L163.9,508.7 L164.1,508.7 L164.3,508.7 L164.6,508.7 L164.8,508.6 L165,508.6 L165.2,508.6 L165.4,508.6 L165.7,508.5 L165.9,508.5 L166.1,508.5 L166.3,508.4 L166.5,508.4 L166.8,508.3 L167,508.2 L167.2,508.2 L167.4,508.1 L167.6,508 L167.9,507.9 L168.1,507.8 L168.3,507.7 L168.5,507.6 L168.7,507.5 L169,507.4 L169.2,507.3 L169.4,507.1 L169.6,507 L169.8,506.8 L170.1,506.7 L170.3,506.5 L170.5,506.3 L170.7,506 L171,505.8 L171.2,505.5 L171.4,505.3 L171.6,505 L171.8,504.7 L172.1,504.3 L172.3,504 L172.5,503.6 L172.7,503.2 L172.9,502.8 L173.2,502.3 L173.4,501.9 L173.6,501.4 L173.8,500.9 L174,500.3 L174.3,499.7 L174.5,499 L174.7,498.3 L174.9,497.5 L175.1,496.6 L175.4,495.7 L175.6,494.6 L175.8,493.4 L176,492 L176.2,490.5 L176.5,488.9 L176.7,487.1 L176.9,485.3 L177.1,483.3 L177.3,481.2 L177.6,479 L177.8,476.6 L178,474.1 L178.2,471.4 L178.5,468.7 L178.7,465.8 L178.9,462.8 L179.1,459.7 L179.3,456.5 L179.6,453.2 L179.8,449.8 L180,446.4 L180.2,443.1 L180.4,440 L180.7,437 L180.9,433.9 L181.1,431 L181.3,428.1 L181.5,425.4 L181.8,422.9 L182,420.6 L182.2,418.6 L182.4,416.5 L182.6,414.5 L182.9,412.5 L183.1,410.6 L183.3,409.1 L183.5,407.9 L183.7,407.2 L184,407 L184.2,407.4 L184.4,408.2 L184.6,409.5 L184.8,411 L185.1,412.8 L185.3,414.7 L185.5,416.7 L185.7,418.7 L185.9,420.6 L186.2,422.8 L186.4,425.3 L186.6,428 L186.8,430.8 L187.1,433.8 L187.3,436.7 L187.5,439.5 L187.7,442.2 L187.9,445 L188.2,447.8 L188.4,450.5 L188.6,453.3 L188.8,456 L189,458.8 L189.3,461.5 L189.5,464.3 L189.7,467.1 L189.9,470 L190.1,472.7 L190.4,475.2 L190.6,477.6 L190.8,479.7 L191,481.6 L191.2,483.3 L191.5,484.9 L191.7,486.4 L191.9,487.7 L192.1,489 L192.3,490.1 L192.6,491.2 L192.8,492.3 L193,493.2 L193.2,494.1 L193.4,494.9 L193.7,495.7 L193.9,496.5 L194.1,497.1 L194.3,497.8 L194.6,498.4 L194.8,498.9 L195,499.5 L195.2,500 L195.4,500.4 L195.7,500.9 L195.9,501.3 L196.1,501.7 L196.3,502 L196.5,502.4 L196.8,502.7 L197,503 L197.2,503.3 L197.4,503.6 L197.6,503.9 L197.9,504.2 L198.1,504.4 L198.3,504.7 L198.5,504.9 L198.7,505.1 L199,505.3 L199.2,505.5 L199.4,505.6 L199.6,505.8 L199.8,506 L200.1,506.1 L200.3,506.3 L200.5,506.4 L200.7,506.5 L200.9,506.7 L201.2,506.8 L201.4,506.9 L201.6,507 L201.8,507.1 L202.1,507.2 L202.3,507.3 L202.5,507.3 L202.7,507.4 L202.9,507.5 L203.2,507.6 L203.4,507.6 L203.6,507.7 L203.8,507.8 L204,507.8 L204.3,507.9 L204.5,507.9 L204.7,508 L204.9,508 L205.1,508.1 L205.4,508.1 L205.6,508.1 L205.8,508.2 L206,508.2 L206.2,508.2 L206.5,508.3 L206.7,508.3 L206.9,508.3 L207.1,508.4 L207.3,508.4 L207.6,508.4 L207.8,508.4 L208,508.4 L208.2,508.5 L208.4,508.5 L208.7,508.5 L208.9,508.5 L209.1,508.5 L209.3,508.5 L209.5,508.6 L209.8,508.6 L210,508.6 L210.2,508.6 L210.4,508.6 L210.7,508.6 L210.9,508.6 L211.1,508.6 L211.3,508.6 L211.5,508.7 L211.8,508.7 L212,508.7 L212.2,508.7 L212.4,508.7 L212.6,508.7 L212.9,508.7 L213.1,508.7 L213.3,508.7 L213.5,508.7 L213.7,508.7 L214,508.7 L214.2,508.7 L214.4,508.7 L214.6,508.7 L214.8,508.7 L215.1,508.7 L215.3,508.7 L215.5,508.7 L215.7,508.7 L215.9,508.7 L216.2,508.8 L216.4,508.8 L216.6,508.8 L216.8,508.8 L217,508.8 L217.3,508.8 L217.5,508.8 L217.7,508.8 L217.9,508.8 L218.2,508.8 L218.4,508.8 L218.6,508.8 L218.8,508.8 L219,508.8 L219.3,508.8 L219.5,508.8 L219.7,508.8 L219.9,508.8 L220.1,508.8 L220.4,508.8 L220.6,508.8 L220.8,508.8 L221,508.8 L221.2,508.8 L221.5,508.8 L221.7,508.8 L221.9,508.8 L222.1,508.8 L222.3,508.8 L222.6,508.8 L222.8,508.8 L223,508.8 L223.2,508.8 L223.4,508.8 L223.7,508.8 L223.9,508.8 L224.1,508.8 L224.3,508.8 L224.5,508.8 L224.8,508.8 L225,508.8 L225.2,508.8 L225.4,508.8 L225.7,508.8 L225.9,508.8 L226.1,508.8 L226.3,508.8 L226.5,508.8 L226.8,508.8 L227,508.8 L227.2,508.8 L227.4,508.8 L227.6,508.8 L227.9,508.8 L228.1,508.8 L228.3,508.8 L228.5,508.8 L228.7,508.8 L229,508.8 L229.2,508.8 L229.4,508.8 L229.6,508.8 L229.8,508.8 L230.1,508.8 L230.3,508.8 L230.5,508.8 L230.7,508.8 L230.9,508.8 L231.2,508.8 L231.4,508.8 L231.6,508.8 L231.8,508.8 L232,508.8 L232.3,508.8 L232.5,508.8 L232.7,508.8 L232.9,508.8 L233.1,508.8 L233.4,508.8 L233.6,508.8 L233.8,508.8 L234,508.8 L234.3,508.8 L234.5,508.8 L234.7,508.8 L234.9,508.8 L235.1,508.8 L235.4,508.8 L235.6,508.8 L235.8,508.8 L236,508.8 L236.2,508.8 L236.5,508.8 L236.7,508.8 L236.9,508.8 L237.1,508.8 L237.3,508.8 L237.6,508.8 L237.8,508.8 L238,508.8 L238.2,508.8 L238.4,508.8 L238.7,508.8 L238.9,508.8 L239.1,508.8 L239.3,508.8 L239.5,508.8 L239.8,508.8 L240,508.8 L240.2,508.8 L240.4,508.8 L240.6,508.8 L240.9,508.8 L241.1,508.8 L241.3,508.8 L241.5,508.8 L241.8,508.8 L242,508.8 L242.2,508.8 L242.4,508.8 L242.6,508.8 L242.9,508.8 L243.1,508.8 L243.3,508.8 L243.5,508.8 L243.7,508.8 L244,508.8 L244.2,508.8 L244.4,508.8 L244.6,508.8 L244.8,508.8 L245.1,508.8 L245.3,508.8 L245.5,508.8 L245.5,508.8 Z" fill="#a4a4f8" stroke="none"/>
<path d="M69.1,508.2 L148.5,508.2 L148.5,508.2 L148.7,508.2 L148.9,508.2 L149.1,508.2 L149.3,508.2 L149.6,508.2 L149.8,508.2 L150,508.2 L150.2,508.2 L150.4,508.2 L150.7,508.2 L150.9,508.2 L151.1,508.2 L151.3,508.2 L151.5,508.2 L151.8,508.2 L152,508.2 L152.2,508.2 L152.4,508.2 L152.6,508.2 L152.9,508.2 L153.1,508.2 L153.3,508.2 L153.5,508.2 L153.7,508.2 L154,508.2 L154.2,508.2 L154.4,508.2 L154.6,508.2 L154.9,508.2 L155.1,508.2 L155.3,508.2 L155.5,508.2 L155.7,508.2 L156,508.2 L156.2,508.2 L156.4,508.2 L156.6,508.2 L156.8,508.2 L157.1,508.2 L157.3,508.2 L157.5,508.2 L157.7,508.2 L157.9,508.2 L158.2,508.2 L158.4,508.2 L158.6,508.2 L158.8,508.2 L159,508.2 L159.3,508.2 L159.5,508.2 L159.7,508.2 L159.9,508.2 L160.1,508.2 L160.4,508.2 L160.6,508.2 L160.8,508.2 L161,508.2 L161.2,508.2 L161.5,508.2 L161.7,508.2 L161.9,508.2 L162.1,508.2 L162.4,508.2 L162.6,508.2 L162.8,508.2 L163,508.2 L163.2,508.2 L163.5,508.2 L163.7,508.2 L163.9,508.2 L164.1,508.2 L164.3,508.2 L164.6,508.2 L164.8,508.2 L165,508.2 L165.2,508.2 L165.4,508.2 L165.7,508.2 L165.9,508.2 L166.1,508.2 L166.3,508.2 L166.5,508.2 L166.8,508.2 L167,508.2 L167.2,508.2 L167.4,508.1 L167.6,508 L167.9,507.9 L168.1,507.8 L168.3,507.7 L168.5,507.6 L168.7,507.5 L169,507.4 L169.2,507.3 L169.4,507.1 L169.6,507 L169.8,506.8 L170.1,506.7 L170.3,506.5 L170.5,506.3 L170.7,506 L171,505.8 L171.2,505.5 L171.4,505.3 L171.6,505 L171.8,504.7 L172.1,504.3 L172.3,504 L172.5,503.6 L172.7,503.2 L172.9,502.8 L173.2,502.3 L173.4,501.9 L173.6,501.4 L173.8,500.9 L174,500.3 L174.3,499.7 L174.5,499 L174.7,498.3 L174.9,497.5 L175.1,496.6 L175.4,495.7 L175.6,494.6 L175.8,493.4 L176,492 L176.2,490.5 L176.5,488.9 L176.7,487.1 L176.9,485.3 L177.1,483.3 L177.3,481.2 L177.6,479 L177.8,476.6 L178,474.1 L178.2,471.4 L178.5,468.7 L178.7,465.8 L178.9,462.8 L179.1,459.7 L179.3,456.5 L179.6,453.2 L179.8,449.8 L180,446.4 L180.2,443.1 L180.4,440 L180.7,437 L180.9,433.9 L181.1,431 L181.3,428.1 L181.5,425.4 L181.8,422.9 L182,420.6 L182.2,418.6 L182.4,416.5 L182.6,414.5 L182.9,412.5 L183.1,410.6 L183.3,409.1 L183.5,407.9 L183.7,407.2 L184,407 L184.2,407.4 L184.4,408.2 L184.6,409.5 L184.8,411 L185.1,412.8 L185.3,414.7 L185.5,416.7 L185.7,418.7 L185.9,420.6 L186.2,422.8 L186.4,425.3 L186.6,428 L186.8,430.8 L187.1,433.8 L187.3,436.7 L187.5,439.5 L187.7,442.2 L187.9,445 L188.2,447.8 L188.4,450.5 L188.6,453.3 L188.8,456 L189,458.8 L189.3,461.5 L189.5,464.3 L189.7,467.1 L189.9,470 L190.1,472.7 L190.4,475.2 L190.6,477.6 L190.8,479.7 L191,481.6 L191.2,483.3 L191.5,484.9 L191.7,486.4 L191.9,487.7 L192.1,489 L192.3,490.1 L192.6,491.2 L192.8,492.3 L193,493.2 L193.2,494.1 L193.4,494.9 L193.7,495.7 L193.9,496.5 L194.1,497.1 L194.3,497.8 L194.6,498.4 L194.8,498.9 L195,499.5 L195.2,500 L195.4,500.4 L195.7,500.9 L195.9,501.3 L196.1,501.7 L196.3,502 L196.5,502.4 L196.8,502.7 L197,503 L197.2,503.3 L197.4,503.6 L197.6,503.9 L197.9,504.2 L198.1,504.4 L198.3,504.7 L198.5,504.9 L198.7,505.1 L199,505.3 L199.2,505.5 L199.4,505.6 L199.6,505.8 L199.8,506 L200.1,506.1 L200.3,506.3 L200.5,506.4 L200.7,506.5 L200.9,506.7 L201.2,506.8 L201.4,506.9 L201.6,507 L201.8,507.1 L202.1,507.2 L202.3,507.3 L202.5,507.3 L202.7,507.4 L202.9,507.5 L203.2,507.6 L203.4,507.6 L203.6,507.7 L203.8,507.8 L204,507.8 L204.3,507.9 L204.5,507.9 L204.7,508 L204.9,508 L205.1,508.1 L205.4,508.1 L205.6,508.1 L205.8,508.2 L206,508.2 L206.2,508.2 L206.5,508.2 L206.7,508.2 L206.9,508.2 L207.1,508.2 L207.3,508.2 L207.6,508.2 L207.8,508.2 L208,508.2 L208.2,508.2 L208.4,508.2 L208.7,508.2 L208.9,508.2 L209.1,508.2 L209.3,508.2 L209.5,508.2 L209.8,508.2 L210,508.2 L210.2,508.2 L210.4,508.2 L210.7,508.2 L210.9,508.2 L211.1,508.2 L211.3,508.2 L211.5,508.2 L211.8,508.2 L212,508.2 L212.2,508.2 L212.4,508.2 L212.6,508.2 L212.9,508.2 L213.1,508.2 L213.3,508.2 L213.5,508.2 L213.7,508.2 L214,508.2 L214.2,508.2 L214.4,508.2 L214.6,508.2 L214.8,508.2 L215.1,508.2 L215.3,508.2 L215.5,508.2 L215.7,508.2 L215.9,508.2 L216.2,508.2 L216.4,508.2 L216.6,508.2 L216.8,508.2 L217,508.2 L217.3,508.2 L217.5,508.2 L217.7,508.2 L217.9,508.2 L218.2,508.2 L218.4,508.2 L218.6,508.2 L218.8,508.2 L219,508.2 L219.3,508.2 L219.5,508.2 L219.7,508.2 L219.9,508.2 L220.1,508.2 L220.4,508.2 L220.6,508.2 L220.8,508.2 L221,508.2 L221.2,508.2 L221.5,508.2 L221.7,508.2 L221.9,508.2 L222.1,508.2 L222.3,508.2 L222.6,508.2 L222.8,508.2 L223,508.2 L223.2,508.2 L223.4,508.2 L223.7,508.2 L223.9,508.2 L224.1,508.2 L224.3,508.2 L224.5,508.2 L224.8,508.2 L225,508.2 L225.2,508.2 L225.4,508.2 L225.7,508.2 L225.9,508.2 L226.1,508.2 L226.3,508.2 L226.5,508.2 L226.8,508.2 L227,508.2 L227.2,508.2 L227.4,508.2 L227.6,508.2 L227.9,508.2 L228.1,508.2 L228.3,508.2 L228.5,508.2 L228.7,508.2 L229,508.2 L229.2,508.2 L229.4,508.2 L229.6,508.2 L229.8,508.2 L230.1,508.2 L230.3,508.2 L230.5,508.2 L230.7,508.2 L230.9,508.2 L231.2,508.2 L231.4,508.2 L231.6,508.2 L231.8,508.2 L232,508.2 L232.3,508.2 L232.5,508.2 L232.7,508.2 L232.9,508.2 L233.1,508.2 L233.4,508.2 L233.6,508.2 L233.8,508.2 L234,508.2 L234.3,508.2 L234.5,508.2 L234.7,508.2 L234.9,508.2 L235.1,508.2 L235.4,508.2 L235.6,508.2 L235.8,508.2 L236,508.2 L236.2,508.2 L236.5,508.2 L236.7,508.2 L236.9,508.2 L237.1,508.2 L237.3,508.2 L237.6,508.2 L237.8,508.2 L238,508.2 L238.2,508.2 L238.4,508.2 L238.7,508.2 L238.9,508.2 L239.1,508.2 L239.3,508.2 L239.5,508.2 L239.8,508.2 L240,508.2 L240.2,508.2 L240.4,508.2 L240.6,508.2 L240.9,508.2 L241.1,508.2 L241.3,508.2 L241.5,508.2 L241.8,508.2 L242,508.2 L242.2,508.2 L242.4,508.2 L242.6,508.2 L242.9,508.2 L243.1,508.2 L243.3,508.2 L243.5,508.2 L243.7,508.2 L244,508.2 L244.2,508.2 L244.4,508.2 L244.6,508.2 L244.8,508.2 L245.1,508.2 L245.3,508.2 L245.5,508.2" fill="none" stroke="#262696" stroke-width="1.4" stroke-linejoin="round"/>
<line x1="181.3" y1="462.9" x2="186.6" y2="462.9" stroke="#111" stroke-width="1.1"/>
<path d="M179.3,462.9 L182.5,461 L182.5,464.8 Z" fill="#111" stroke="#111" stroke-width="0.4" stroke-linejoin="round"/>
<path d="M188.6,462.9 L185.4,461 L185.4,464.8 Z" fill="#111" stroke="#111" stroke-width="0.4" stroke-linejoin="round"/>
<text x="196.5" y="442.1" font-size="14.3" text-anchor="start" fill="#1a1a1a" stroke="#1a1a1a" stroke-width="0.25">FWHM</text>
<text x="196.5" y="458.2" font-size="14.3" text-anchor="start" fill="#1a1a1a" stroke="#1a1a1a" stroke-width="0.25">=21nm</text>
<rect x="47" y="348.3" width="198.5" height="160.5" fill="none" stroke="#2b2b2b" stroke-width="1.3"/>
<text x="183.8" y="372.3" font-size="17.3" text-anchor="start" fill="#2a2aa8" stroke="#2a2aa8" stroke-width="0.35">Homo.</text>
<text x="183.8" y="393.5" font-size="17.3" text-anchor="start" fill="#2a2aa8" stroke="#2a2aa8" stroke-width="0.35">BTJ</text>
<rect x="67.3" y="358.8" width="95.7" height="121.5" fill="#fff"/>
<path d="M67.3,480.3 L67.6,474.5 L67.9,470.6 L68.2,476.4 L68.5,480.3 L68.9,472.7 L69.2,464.2 L69.5,470.5 L69.8,466.2 L70.1,480.3 L70.4,468.5 L70.7,473.7 L71,480.3 L71.3,464.8 L71.7,469.2 L72,467.6 L72.3,473.8 L72.6,472.8 L72.9,474.8 L73.2,466.1 L73.5,466.9 L73.8,468.7 L74.1,478.8 L74.5,463.1 L74.8,475 L75.1,467.3 L75.4,471 L75.7,474.7 L76,464.7 L76.3,470.1 L76.6,464.4 L76.9,464.2 L77.3,466.8 L77.6,480 L77.9,471 L78.2,467.2 L78.5,469.8 L78.8,472.3 L79.1,465.8 L79.4,468.4 L79.7,461.2 L80.1,480.3 L80.4,469.9 L80.7,480.3 L81,469.4 L81.3,467 L81.6,465.4 L81.9,473.3 L82.2,467.9 L82.5,469.1 L82.9,468.2 L83.2,466.1 L83.5,478.4 L83.8,467.4 L84.1,466.4 L84.4,469.2 L84.7,473.2 L85,471.5 L85.3,475.9 L85.7,466 L86,466.4 L86.3,477.5 L86.6,478.7 L86.9,471.8 L87.2,469.9 L87.5,465 L87.8,467.3 L88.1,469.1 L88.4,475.5 L88.8,464.9 L89.1,465.9 L89.4,466.9 L89.7,469.9 L90,480.3 L90.3,463.3 L90.6,468.1 L90.9,469.7 L91.2,470.6 L91.6,467.3 L91.9,480.3 L92.2,475.6 L92.5,467.9 L92.8,469.9 L93.1,469.9 L93.4,464.9 L93.7,471.9 L94,466.6 L94.4,467.6 L94.7,476 L95,465 L95.3,469 L95.6,474.8 L95.9,468.2 L96.2,464.6 L96.5,475.5 L96.8,467.6 L97.2,461 L97.5,476.2 L97.8,461.9 L98.1,480.3 L98.4,470.4 L98.7,463.2 L99,471.1 L99.3,461.9 L99.6,472.8 L100,467.6 L100.3,472.4 L100.6,472 L100.9,468.2 L101.2,470.7 L101.5,480.3 L101.8,467 L102.1,480.3 L102.4,470 L102.8,469.6 L103.1,466.1 L103.4,472.4 L103.7,464.2 L104,466 L104.3,466.8 L104.6,469.2 L104.9,469 L105.2,467.9 L105.6,470.1 L105.9,462.1 L106.2,464.6 L106.5,470.5 L106.8,461.9 L107.1,463.7 L107.4,465.7 L107.7,464.1 L108,464.8 L108.4,466.7 L108.7,468.8 L109,480.3 L109.3,464.7 L109.6,467.8 L109.9,464.8 L110.2,477.6 L110.5,465.8 L110.8,470.3 L111.2,470.5 L111.5,467.3 L111.8,461.3 L112.1,462.7 L112.4,470 L112.7,466.5 L113,463.1 L113.3,464.4 L113.6,463.7 L114,466.1 L114.3,462.4 L114.6,460.6 L114.9,464.2 L115.2,463.3 L115.5,467.9 L115.8,467.7 L116.1,462.9 L116.4,465.4 L116.8,461.8 L117.1,468.8 L117.4,468.3 L117.7,470.8 L118,461.1 L118.3,465.5 L118.6,460.7 L118.9,464 L119.2,465.8 L119.6,466.3 L119.9,463.7 L120.2,465.7 L120.5,478.9 L120.8,465.9 L121.1,467.5 L121.4,471.4 L121.7,463.6 L122,471.8 L122.4,470.5 L122.7,476.6 L123,464.2 L123.3,464.6 L123.6,465 L123.9,465.9 L124.2,462.3 L124.5,465.1 L124.8,469.4 L125.2,466.1 L125.5,463.1 L125.8,467.1 L126.1,461.2 L126.4,461.5 L126.7,480.3 L127,469.1 L127.3,462.4 L127.6,465.3 L127.9,464 L128.3,463.7 L128.6,462 L128.9,464.3 L129.2,459 L129.5,460.2 L129.8,461.3 L130.1,472.5 L130.4,471.1 L130.7,461.9 L131.1,460.2 L131.4,466.6 L131.7,463.4 L132,464.2 L132.3,464.6 L132.6,464.9 L132.9,463.7 L133.2,463.5 L133.5,459.4 L133.9,469.2 L134.2,463.2 L134.5,473 L134.8,464.9 L135.1,469.5 L135.4,468.5 L135.7,463 L136,460.7 L136.3,471.7 L136.7,461 L137,465.1 L137.3,459 L137.6,460.2 L137.9,461.5 L138.2,464.9 L138.5,462.9 L138.8,464.7 L139.1,467.4 L139.5,460.6 L139.8,463.7 L140.1,464.9 L140.4,463.5 L140.7,461.5 L141,463.3 L141.3,468 L141.6,462.1 L141.9,466.3 L142.3,468.7 L142.6,460.6 L142.9,461 L143.2,462.5 L143.5,460.2 L143.8,463.7 L144.1,468.3 L144.4,461.8 L144.7,469.8 L145.1,461 L145.4,463.2 L145.7,468.8 L146,463.8 L146.3,463.6 L146.6,465.9 L146.9,462 L147.2,465.9 L147.5,459.3 L147.9,459.3 L148.2,465.4 L148.5,464.2 L148.8,468.2 L149.1,462.3 L149.4,462.3 L149.7,466.9 L150,461.6 L150.3,461.6 L150.7,461.8 L151,459.2 L151.3,462 L151.6,464 L151.9,464.9 L152.2,458.7 L152.5,466.1 L152.8,463.1 L153.1,460.3 L153.5,464.9 L153.8,461.4 L154.1,464.8 L154.4,459.4 L154.7,464.9 L155,468.8 L155.3,464.6 L155.6,460.6 L155.9,473.7 L156.3,462.7 L156.6,459 L156.9,463.4 L157.2,461.5 L157.5,462.1 L157.8,461.1 L158.1,459.5 L158.4,461.1 L158.7,459.9 L159.1,463.2 L159.4,466.5 L159.7,463.9 L160,464.3 L160.3,459.8 L160.6,464.3 L160.9,462.2 L161.2,459.8 L161.5,463.3 L161.9,462.7 L162.2,458.8 L162.5,463.7 L162.8,464.8" fill="none" stroke="#383838" stroke-width="0.9" stroke-linejoin="round"/>
<path d="M67.3,466.2 L67.6,464.3 L67.9,470.3 L68.2,460.9 L68.5,468.2 L68.9,463.7 L69.2,467.5 L69.5,466.6 L69.8,466.1 L70.1,462.2 L70.4,469.5 L70.7,460.3 L71,471.2 L71.3,464.9 L71.7,476.3 L72,480.3 L72.3,459.8 L72.6,480.3 L72.9,465.5 L73.2,466.1 L73.5,472.1 L73.8,463.2 L74.1,460.2 L74.5,470.4 L74.8,460.2 L75.1,463 L75.4,469.3 L75.7,467 L76,467.3 L76.3,463.3 L76.6,480.3 L76.9,462.3 L77.3,462.4 L77.6,464.3 L77.9,465.9 L78.2,461.6 L78.5,464.1 L78.8,463.5 L79.1,466.9 L79.4,466 L79.7,466 L80.1,461.7 L80.4,480.3 L80.7,464.6 L81,461.7 L81.3,480.3 L81.6,468.5 L81.9,466.2 L82.2,470.7 L82.5,463.8 L82.9,466.1 L83.2,461.3 L83.5,462.5 L83.8,464.9 L84.1,473 L84.4,461.7 L84.7,463.6 L85,461.3 L85.3,464.2 L85.7,462.6 L86,465 L86.3,463.6 L86.6,468.7 L86.9,470.9 L87.2,468.8 L87.5,464.3 L87.8,464.7 L88.1,464.9 L88.4,468.4 L88.8,467.1 L89.1,463 L89.4,468.3 L89.7,470.2 L90,462.9 L90.3,459.5 L90.6,470.2 L90.9,468 L91.2,461.9 L91.6,462.7 L91.9,462.9 L92.2,459.3 L92.5,464.2 L92.8,462.9 L93.1,465 L93.4,472.2 L93.7,464.1 L94,471.6 L94.4,471.8 L94.7,465.4 L95,463.1 L95.3,467.1 L95.6,464.2 L95.9,470.3 L96.2,464.5 L96.5,464 L96.8,467.4 L97.2,480.3 L97.5,461.4 L97.8,464.7 L98.1,464 L98.4,471.1 L98.7,468.1 L99,458.9 L99.3,462.5 L99.6,461.9 L100,464.4 L100.3,463.5 L100.6,465.1 L100.9,461.2 L101.2,468.6 L101.5,468.7 L101.8,464 L102.1,469.9 L102.4,459.3 L102.8,473.2 L103.1,461.1 L103.4,464.7 L103.7,463.9 L104,461.6 L104.3,464.3 L104.6,462.5 L104.9,465.1 L105.2,460 L105.6,472.2 L105.9,460.5 L106.2,470.9 L106.5,467.4 L106.8,466.1 L107.1,466.6 L107.4,469.2 L107.7,462 L108,468.9 L108.4,461.8 L108.7,465.9 L109,462.7 L109.3,457.3 L109.6,464.8 L109.9,465.5 L110.2,461.6 L110.5,461 L110.8,461.8 L111.2,462 L111.5,465.1 L111.8,457 L112.1,464.7 L112.4,458.2 L112.7,460.6 L113,463.7 L113.3,460.3 L113.6,459.4 L114,466.3 L114.3,460.5 L114.6,461.9 L114.9,464.8 L115.2,462.3 L115.5,464.3 L115.8,465.2 L116.1,461.2 L116.4,462 L116.8,459.9 L117.1,467 L117.4,463.8 L117.7,460.7 L118,461.2 L118.3,463.5 L118.6,463.4 L118.9,463.1 L119.2,460.8 L119.6,461.5 L119.9,480.3 L120.2,470 L120.5,473 L120.8,459.1 L121.1,462.1 L121.4,462.9 L121.7,458.3 L122,461.1 L122.4,458.2 L122.7,461.9 L123,455.8 L123.3,453.4 L123.6,453.8 L123.9,455 L124.2,450.3 L124.5,446.5 L124.8,446.4 L125.2,445 L125.5,443 L125.8,439.9 L126.1,437.6 L126.4,434.2 L126.7,432.3 L127,429.2 L127.3,427.9 L127.6,426.2 L127.9,424.5 L128.3,423.3 L128.6,422.3 L128.9,421.8 L129.2,421 L129.5,420.5 L129.8,420.2 L130.1,420.1 L130.4,420.4 L130.7,420.3 L131.1,420.7 L131.4,421 L131.7,421.3 L132,421.4 L132.3,421.7 L132.6,422 L132.9,422.3 L133.2,422.5 L133.5,423 L133.9,423.6 L134.2,423.6 L134.5,424.4 L134.8,424.7 L135.1,424.9 L135.4,425.5 L135.7,426.2 L136,426.5 L136.3,427.6 L136.7,428.1 L137,428.2 L137.3,429.1 L137.6,428.8 L137.9,429.9 L138.2,430.8 L138.5,430.4 L138.8,431.1 L139.1,431 L139.5,432.6 L139.8,432.5 L140.1,432.3 L140.4,433.1 L140.7,433.8 L141,433.7 L141.3,434.4 L141.6,435.3 L141.9,435.7 L142.3,435.9 L142.6,436.2 L142.9,436.4 L143.2,436.4 L143.5,437.5 L143.8,437.9 L144.1,438.8 L144.4,438.6 L144.7,438.8 L145.1,438.8 L145.4,440.5 L145.7,440.9 L146,441.3 L146.3,441.9 L146.6,442.9 L146.9,442 L147.2,442.7 L147.5,442.7 L147.9,443.8 L148.2,444.5 L148.5,443.4 L148.8,444.5 L149.1,444.5 L149.4,445.6 L149.7,444.8 L150,446.9 L150.3,445.3 L150.7,448.7 L151,445.7 L151.3,446.3 L151.6,449.3 L151.9,447.3 L152.2,447.2 L152.5,449.5 L152.8,449.3 L153.1,448.7 L153.5,448.3 L153.8,454.1 L154.1,448.1 L154.4,452.4 L154.7,450.4 L155,450.4 L155.3,450.4 L155.6,452.3 L155.9,451.9 L156.3,451.7 L156.6,452.2 L156.9,453 L157.2,451.3 L157.5,452.7 L157.8,453 L158.1,453.3 L158.4,452.8 L158.7,455.7 L159.1,452.1 L159.4,456.2 L159.7,454.3 L160,453.3 L160.3,454.6 L160.6,455.1 L160.9,454.4 L161.2,453.7 L161.5,453.8 L161.9,455.3 L162.2,454.4 L162.5,458.8 L162.8,461.2" fill="none" stroke="#e0404a" stroke-width="0.9" stroke-linejoin="round"/>
<path d="M67.3,457.4 L67.6,458.1 L67.9,461.1 L68.2,458.9 L68.5,459.8 L68.9,456.6 L69.2,456.5 L69.5,462.6 L69.8,459 L70.1,456.8 L70.4,457.2 L70.7,457.2 L71,457.9 L71.3,460 L71.7,461.2 L72,461.4 L72.3,457.6 L72.6,455.3 L72.9,456.3 L73.2,455 L73.5,458.9 L73.8,460.2 L74.1,457.2 L74.5,454.3 L74.8,458.8 L75.1,457 L75.4,461.3 L75.7,455.5 L76,457.5 L76.3,457.9 L76.6,455 L76.9,462.1 L77.3,456.2 L77.6,458.3 L77.9,456.8 L78.2,458.6 L78.5,456.8 L78.8,458.2 L79.1,453.9 L79.4,454.5 L79.7,455.8 L80.1,457.3 L80.4,459.9 L80.7,457.3 L81,462 L81.3,455.8 L81.6,463.8 L81.9,455.7 L82.2,458.9 L82.5,456.6 L82.9,452.9 L83.2,459 L83.5,458.5 L83.8,455.6 L84.1,461.6 L84.4,453.1 L84.7,455.7 L85,457.8 L85.3,455.1 L85.7,457.1 L86,456.7 L86.3,457.5 L86.6,457.8 L86.9,455.7 L87.2,459.1 L87.5,458.7 L87.8,454.9 L88.1,454.4 L88.4,457.8 L88.8,456 L89.1,457.3 L89.4,455 L89.7,455.9 L90,455.3 L90.3,454.9 L90.6,455 L90.9,455.6 L91.2,458.2 L91.6,458.3 L91.9,453.9 L92.2,456 L92.5,455.2 L92.8,458.6 L93.1,460.5 L93.4,461.9 L93.7,457 L94,457.2 L94.4,454 L94.7,454.7 L95,453.5 L95.3,459.4 L95.6,457.3 L95.9,455.2 L96.2,454.7 L96.5,456.6 L96.8,458.8 L97.2,457.9 L97.5,459.7 L97.8,455.5 L98.1,458 L98.4,455.3 L98.7,456.4 L99,457.8 L99.3,454.7 L99.6,459.4 L100,455.2 L100.3,455.1 L100.6,454.4 L100.9,455.3 L101.2,451.8 L101.5,457.1 L101.8,452.4 L102.1,453.7 L102.4,453.9 L102.8,454.1 L103.1,455.7 L103.4,456 L103.7,456.5 L104,454.4 L104.3,453.5 L104.6,451.8 L104.9,454.4 L105.2,454.7 L105.6,457.1 L105.9,455.2 L106.2,455.8 L106.5,453 L106.8,453.7 L107.1,455.9 L107.4,451.9 L107.7,458 L108,455 L108.4,453.4 L108.7,454.6 L109,454.5 L109.3,454.5 L109.6,453.7 L109.9,454.4 L110.2,452.9 L110.5,456.5 L110.8,455.9 L111.2,455.4 L111.5,453.1 L111.8,454.3 L112.1,455.6 L112.4,455.6 L112.7,454.1 L113,455.9 L113.3,453.8 L113.6,453.2 L114,453.6 L114.3,453.1 L114.6,453.2 L114.9,455.4 L115.2,454 L115.5,453.6 L115.8,453 L116.1,454.7 L116.4,452.8 L116.8,453.2 L117.1,457.6 L117.4,454.4 L117.7,456.3 L118,454.8 L118.3,452 L118.6,453.1 L118.9,453.7 L119.2,454.4 L119.6,459.2 L119.9,477.2 L120.2,457.2 L120.5,451.8 L120.8,447.8 L121.1,443.9 L121.4,443.3 L121.7,439.3 L122,437.6 L122.4,436 L122.7,435.3 L123,432.8 L123.3,432.6 L123.6,430.7 L123.9,429 L124.2,427.4 L124.5,425.6 L124.8,423.9 L125.2,422 L125.5,419.6 L125.8,416.7 L126.1,413.7 L126.4,411.2 L126.7,408.6 L127,406.6 L127.3,404.9 L127.6,403.2 L127.9,401.7 L128.3,400.4 L128.6,399.3 L128.9,398.7 L129.2,398 L129.5,397.6 L129.8,397.2 L130.1,397.2 L130.4,397.5 L130.7,397.8 L131.1,398.1 L131.4,398.4 L131.7,398.8 L132,399.2 L132.3,399.6 L132.6,399.9 L132.9,400.3 L133.2,400.8 L133.5,401.2 L133.9,401.8 L134.2,402.4 L134.5,403 L134.8,403.7 L135.1,404.6 L135.4,405.4 L135.7,406.1 L136,407.1 L136.3,407.8 L136.7,408.8 L137,409.3 L137.3,410.2 L137.6,410.7 L137.9,412 L138.2,412.1 L138.5,413.1 L138.8,413.6 L139.1,414.6 L139.5,415.1 L139.8,415.6 L140.1,416.4 L140.4,416.9 L140.7,417.7 L141,418.9 L141.3,419.3 L141.6,419.5 L141.9,420.3 L142.3,421 L142.6,421.4 L142.9,422.2 L143.2,423.1 L143.5,423.6 L143.8,424.1 L144.1,425.4 L144.4,425.9 L144.7,426.1 L145.1,426.2 L145.4,427.3 L145.7,428.3 L146,428.3 L146.3,429.1 L146.6,429.7 L146.9,430.1 L147.2,431.1 L147.5,432 L147.9,432.5 L148.2,433.9 L148.5,434.1 L148.8,434.4 L149.1,434.4 L149.4,435.4 L149.7,436.9 L150,437.7 L150.3,438 L150.7,437.3 L151,437 L151.3,438.2 L151.6,438 L151.9,439.8 L152.2,440.5 L152.5,440.5 L152.8,441.2 L153.1,441.8 L153.5,441.6 L153.8,443.3 L154.1,443.1 L154.4,443.7 L154.7,443.4 L155,446.3 L155.3,444.3 L155.6,446.9 L155.9,445.5 L156.3,445.9 L156.6,445.8 L156.9,446.7 L157.2,447.6 L157.5,448 L157.8,448.7 L158.1,450.5 L158.4,450.9 L158.7,448.9 L159.1,450.9 L159.4,449 L159.7,449.1 L160,449.9 L160.3,453.3 L160.6,450.4 L160.9,451.6 L161.2,452.1 L161.5,453.5 L161.9,450.5 L162.2,452.2 L162.5,453.2 L162.8,453.6" fill="none" stroke="#2f6ed0" stroke-width="0.9" stroke-linejoin="round"/>
<path d="M67.3,450.3 L67.6,450.3 L67.9,455.9 L68.2,449.9 L68.5,450.6 L68.9,448.3 L69.2,452.9 L69.5,450.2 L69.8,449.5 L70.1,450.6 L70.4,452.6 L70.7,452 L71,452.9 L71.3,449.5 L71.7,450.3 L72,450.2 L72.3,451.9 L72.6,450.9 L72.9,451.9 L73.2,448.2 L73.5,453.6 L73.8,450.8 L74.1,450.6 L74.5,449.4 L74.8,449.7 L75.1,449.1 L75.4,449 L75.7,449.1 L76,451.1 L76.3,450.6 L76.6,447.9 L76.9,448.4 L77.3,448.2 L77.6,448 L77.9,449.7 L78.2,448.7 L78.5,448.6 L78.8,451.4 L79.1,447.6 L79.4,447.7 L79.7,449 L80.1,448.8 L80.4,447.8 L80.7,449.4 L81,448 L81.3,448.5 L81.6,451.8 L81.9,448.1 L82.2,448.7 L82.5,449.3 L82.9,448.5 L83.2,448.7 L83.5,450.2 L83.8,447.8 L84.1,448.6 L84.4,447.6 L84.7,450.6 L85,447.3 L85.3,449 L85.7,448.4 L86,450.1 L86.3,447 L86.6,447 L86.9,447.5 L87.2,448 L87.5,446.8 L87.8,448 L88.1,447.8 L88.4,447.9 L88.8,449.1 L89.1,447.3 L89.4,449.3 L89.7,447.9 L90,448.8 L90.3,447.6 L90.6,446.3 L90.9,448.7 L91.2,447.4 L91.6,448.6 L91.9,448.1 L92.2,449.3 L92.5,452.8 L92.8,447.1 L93.1,447.4 L93.4,447.4 L93.7,450.1 L94,448.2 L94.4,447.9 L94.7,446.4 L95,447.4 L95.3,448 L95.6,450.7 L95.9,448.2 L96.2,447.2 L96.5,447.2 L96.8,450.1 L97.2,445.2 L97.5,449.3 L97.8,447.2 L98.1,445 L98.4,447 L98.7,448.7 L99,449 L99.3,447 L99.6,446.7 L100,449 L100.3,449.2 L100.6,448.6 L100.9,448.5 L101.2,445.6 L101.5,448.6 L101.8,447.8 L102.1,447.8 L102.4,448.7 L102.8,449 L103.1,447.7 L103.4,447.9 L103.7,447.9 L104,448.3 L104.3,445.8 L104.6,446.3 L104.9,446.2 L105.2,447.6 L105.6,446.5 L105.9,446.6 L106.2,446.3 L106.5,446.1 L106.8,445.7 L107.1,446 L107.4,445.1 L107.7,447.6 L108,445.7 L108.4,446.4 L108.7,446 L109,446 L109.3,446.8 L109.6,446.6 L109.9,446.3 L110.2,445.1 L110.5,446.8 L110.8,445.1 L111.2,446.8 L111.5,446.6 L111.8,445.8 L112.1,445.7 L112.4,445.8 L112.7,444.9 L113,445.3 L113.3,447.2 L113.6,445.4 L114,444.6 L114.3,446.1 L114.6,445.8 L114.9,446.9 L115.2,446.7 L115.5,445.5 L115.8,445.6 L116.1,445.3 L116.4,444.6 L116.8,444.5 L117.1,448 L117.4,445.2 L117.7,446.2 L118,446.1 L118.3,445 L118.6,448.1 L118.9,444.7 L119.2,445.3 L119.6,449 L119.9,455.5 L120.2,445.2 L120.5,438.6 L120.8,435 L121.1,430.9 L121.4,429.4 L121.7,426.6 L122,424.5 L122.4,423.7 L122.7,422.4 L123,420.3 L123.3,418.6 L123.6,417.5 L123.9,415.6 L124.2,414.3 L124.5,412.3 L124.8,410.6 L125.2,408.6 L125.5,406.4 L125.8,403.7 L126.1,400.7 L126.4,398 L126.7,395.6 L127,393.4 L127.3,391.5 L127.6,389.9 L127.9,388.3 L128.3,387 L128.6,386.2 L128.9,385.4 L129.2,384.7 L129.5,384.2 L129.8,383.8 L130.1,383.9 L130.4,384.2 L130.7,384.5 L131.1,384.9 L131.4,385.3 L131.7,385.8 L132,386.2 L132.3,386.6 L132.6,387.2 L132.9,387.7 L133.2,388.2 L133.5,388.8 L133.9,389.4 L134.2,390 L134.5,390.8 L134.8,391.6 L135.1,392.5 L135.4,393.4 L135.7,394.4 L136,395.4 L136.3,396.5 L136.7,397.4 L137,398.3 L137.3,399.2 L137.6,400 L137.9,400.9 L138.2,401.9 L138.5,402.4 L138.8,403.4 L139.1,404.1 L139.5,404.9 L139.8,405.9 L140.1,406.7 L140.4,407.3 L140.7,408.1 L141,409 L141.3,409.5 L141.6,410.6 L141.9,411.3 L142.3,412.1 L142.6,412.7 L142.9,413.8 L143.2,414 L143.5,414.8 L143.8,415.8 L144.1,416.5 L144.4,417 L144.7,417.8 L145.1,418.7 L145.4,419.3 L145.7,419.6 L146,421.1 L146.3,421.6 L146.6,422.8 L146.9,423.2 L147.2,424.2 L147.5,424.7 L147.9,425.3 L148.2,425.6 L148.5,426.9 L148.8,428.2 L149.1,429 L149.4,429.5 L149.7,430 L150,430.4 L150.3,430.6 L150.7,432.5 L151,432.9 L151.3,432.4 L151.6,433.6 L151.9,434.4 L152.2,434.7 L152.5,435.2 L152.8,436.2 L153.1,435.9 L153.5,436.2 L153.8,436.7 L154.1,436.9 L154.4,438.1 L154.7,439.5 L155,439 L155.3,441 L155.6,440.4 L155.9,440.3 L156.3,443.2 L156.6,441.6 L156.9,442.4 L157.2,443.2 L157.5,443.1 L157.8,441.8 L158.1,443.4 L158.4,445.3 L158.7,445.8 L159.1,446.6 L159.4,444.2 L159.7,447.3 L160,445.6 L160.3,447 L160.6,446.6 L160.9,447.8 L161.2,449.6 L161.5,446.4 L161.9,446.6 L162.2,448.3 L162.5,447.5 L162.8,449.7" fill="none" stroke="#3ea274" stroke-width="0.9" stroke-linejoin="round"/>
<path d="M67.3,440.8 L67.6,440.2 L67.9,440.5 L68.2,441.7 L68.5,440.6 L68.9,440.9 L69.2,440.3 L69.5,440.1 L69.8,439.6 L70.1,439.5 L70.4,439.1 L70.7,441.6 L71,440.3 L71.3,438.8 L71.7,438.6 L72,440.6 L72.3,440.8 L72.6,439.1 L72.9,439.5 L73.2,438.8 L73.5,439 L73.8,441 L74.1,438.8 L74.5,438.1 L74.8,438.3 L75.1,438.4 L75.4,439.2 L75.7,439.5 L76,438 L76.3,437.6 L76.6,438.8 L76.9,437.5 L77.3,437.7 L77.6,437 L77.9,437.9 L78.2,436.6 L78.5,436.9 L78.8,436.7 L79.1,437.7 L79.4,438.4 L79.7,437.9 L80.1,437.6 L80.4,438.6 L80.7,439 L81,438.5 L81.3,439.4 L81.6,439.4 L81.9,439 L82.2,440 L82.5,439.1 L82.9,438.1 L83.2,438.7 L83.5,437.7 L83.8,438.5 L84.1,438.5 L84.4,438.4 L84.7,438.6 L85,438.5 L85.3,438.4 L85.7,438 L86,438.2 L86.3,438.1 L86.6,437 L86.9,437.6 L87.2,438.7 L87.5,438.5 L87.8,439.1 L88.1,439.2 L88.4,437.6 L88.8,437.9 L89.1,438.2 L89.4,437.8 L89.7,437.3 L90,439 L90.3,438.5 L90.6,437.2 L90.9,436.4 L91.2,438 L91.6,437.6 L91.9,438.2 L92.2,437.6 L92.5,437.7 L92.8,436.8 L93.1,438 L93.4,437.2 L93.7,438.2 L94,438.7 L94.4,437.7 L94.7,437.5 L95,436.8 L95.3,437.7 L95.6,438.1 L95.9,439 L96.2,437.4 L96.5,437.6 L96.8,437.3 L97.2,436.6 L97.5,437 L97.8,437.7 L98.1,437.2 L98.4,436.4 L98.7,437 L99,438.8 L99.3,437.1 L99.6,436.5 L100,436.2 L100.3,436.6 L100.6,437.4 L100.9,436.3 L101.2,437.1 L101.5,437.2 L101.8,437.2 L102.1,436.4 L102.4,436.5 L102.8,436.5 L103.1,437.3 L103.4,436.2 L103.7,437.6 L104,436.8 L104.3,435.5 L104.6,436.2 L104.9,436.8 L105.2,436.8 L105.6,436.4 L105.9,435.6 L106.2,436.1 L106.5,436.4 L106.8,436.1 L107.1,436 L107.4,436.9 L107.7,436.3 L108,435.6 L108.4,436 L108.7,437 L109,435.4 L109.3,434.8 L109.6,435.4 L109.9,437.1 L110.2,436.8 L110.5,436 L110.8,437.7 L111.2,435.7 L111.5,436.5 L111.8,434.9 L112.1,436.6 L112.4,435.3 L112.7,436 L113,436.7 L113.3,434.9 L113.6,435.7 L114,435.8 L114.3,436.2 L114.6,435.6 L114.9,436.2 L115.2,435.1 L115.5,435 L115.8,435.3 L116.1,435.6 L116.4,435.6 L116.8,434.1 L117.1,436.1 L117.4,434.2 L117.7,435.5 L118,436.2 L118.3,435.2 L118.6,434.9 L118.9,435.2 L119.2,435.1 L119.6,440.9 L119.9,445.3 L120.2,433.4 L120.5,427 L120.8,422.2 L121.1,419.5 L121.4,416.5 L121.7,414.7 L122,413 L122.4,411.4 L122.7,410.1 L123,408.3 L123.3,406.7 L123.6,405.3 L123.9,403.7 L124.2,402 L124.5,400.3 L124.8,398.5 L125.2,396.6 L125.5,394.4 L125.8,391.6 L126.1,388.5 L126.4,385.7 L126.7,383.4 L127,381.3 L127.3,379.5 L127.6,377.8 L127.9,376.2 L128.3,374.9 L128.6,374 L128.9,373.2 L129.2,372.6 L129.5,372.1 L129.8,371.7 L130.1,371.8 L130.4,372.1 L130.7,372.5 L131.1,372.9 L131.4,373.3 L131.7,373.8 L132,374.2 L132.3,374.7 L132.6,375.2 L132.9,375.8 L133.2,376.4 L133.5,377 L133.9,377.7 L134.2,378.4 L134.5,379.1 L134.8,380 L135.1,381 L135.4,382 L135.7,383 L136,384.1 L136.3,385.2 L136.7,386.2 L137,387.2 L137.3,388.2 L137.6,389.2 L137.9,390 L138.2,390.9 L138.5,391.7 L138.8,392.6 L139.1,393.5 L139.5,394.4 L139.8,395.2 L140.1,396 L140.4,396.9 L140.7,397.6 L141,398.4 L141.3,399.5 L141.6,400.1 L141.9,401.1 L142.3,401.8 L142.6,402.5 L142.9,403.5 L143.2,404.2 L143.5,405 L143.8,405.9 L144.1,406.5 L144.4,407.3 L144.7,408.1 L145.1,409.1 L145.4,409.8 L145.7,410.8 L146,411.2 L146.3,412.5 L146.6,413.4 L146.9,413.9 L147.2,414.4 L147.5,415.4 L147.9,416.2 L148.2,416.9 L148.5,417.7 L148.8,418.5 L149.1,418.9 L149.4,419.9 L149.7,420.7 L150,421.7 L150.3,422 L150.7,422.6 L151,423.3 L151.3,423.6 L151.6,424.7 L151.9,425.5 L152.2,425.8 L152.5,426.3 L152.8,427.2 L153.1,427.3 L153.5,427.5 L153.8,428.5 L154.1,428.9 L154.4,430.1 L154.7,430.4 L155,431.4 L155.3,431.2 L155.6,432 L155.9,432.3 L156.3,432.7 L156.6,433.9 L156.9,433.7 L157.2,433.7 L157.5,434.9 L157.8,435.8 L158.1,436.2 L158.4,435.9 L158.7,436.8 L159.1,436.8 L159.4,438.2 L159.7,438.7 L160,440.1 L160.3,439.7 L160.6,439.1 L160.9,440.2 L161.2,440.5 L161.5,439.9 L161.9,441.1 L162.2,441.1 L162.5,441.6 L162.8,441.4" fill="none" stroke="#a88ad4" stroke-width="0.9" stroke-linejoin="round"/>
<line x1="67.3" y1="480.3" x2="70.3" y2="480.3" stroke="#2b2b2b" stroke-width="0.9"/>
<line x1="67.3" y1="460.1" x2="70.3" y2="460.1" stroke="#2b2b2b" stroke-width="0.9"/>
<line x1="67.3" y1="439.9" x2="70.3" y2="439.9" stroke="#2b2b2b" stroke-width="0.9"/>
<line x1="67.3" y1="419.7" x2="70.3" y2="419.7" stroke="#2b2b2b" stroke-width="0.9"/>
<line x1="67.3" y1="399.5" x2="70.3" y2="399.5" stroke="#2b2b2b" stroke-width="0.9"/>
<line x1="67.3" y1="379.3" x2="70.3" y2="379.3" stroke="#2b2b2b" stroke-width="0.9"/>
<line x1="67.3" y1="359.1" x2="70.3" y2="359.1" stroke="#2b2b2b" stroke-width="0.9"/>
<line x1="67.3" y1="480.3" x2="67.3" y2="478.3" stroke="#2b2b2b" stroke-width="0.9"/>
<line x1="79.3" y1="480.3" x2="79.3" y2="478.3" stroke="#2b2b2b" stroke-width="0.9"/>
<line x1="91.2" y1="480.3" x2="91.2" y2="477.3" stroke="#2b2b2b" stroke-width="0.9"/>
<line x1="103.2" y1="480.3" x2="103.2" y2="478.3" stroke="#2b2b2b" stroke-width="0.9"/>
<line x1="115.2" y1="480.3" x2="115.2" y2="478.3" stroke="#2b2b2b" stroke-width="0.9"/>
<line x1="127.1" y1="480.3" x2="127.1" y2="477.3" stroke="#2b2b2b" stroke-width="0.9"/>
<line x1="139.1" y1="480.3" x2="139.1" y2="478.3" stroke="#2b2b2b" stroke-width="0.9"/>
<line x1="151" y1="480.3" x2="151" y2="478.3" stroke="#2b2b2b" stroke-width="0.9"/>
<line x1="163" y1="480.3" x2="163" y2="477.3" stroke="#2b2b2b" stroke-width="0.9"/>
<rect x="67.3" y="358.8" width="95.7" height="121.5" fill="none" stroke="#2b2b2b" stroke-width="1.1"/>
<text x="65.3" y="483.9" font-size="10" text-anchor="end" fill="#1a1a1a" stroke="#1a1a1a" stroke-width="0.1">10<tspan font-size="6.8" dy="-4.2">0</tspan></text>
<text x="65.3" y="463.7" font-size="10" text-anchor="end" fill="#1a1a1a" stroke="#1a1a1a" stroke-width="0.1">10<tspan font-size="6.8" dy="-4.2">1</tspan></text>
<text x="65.3" y="443.5" font-size="10" text-anchor="end" fill="#1a1a1a" stroke="#1a1a1a" stroke-width="0.1">10<tspan font-size="6.8" dy="-4.2">2</tspan></text>
<text x="65.3" y="423.3" font-size="10" text-anchor="end" fill="#1a1a1a" stroke="#1a1a1a" stroke-width="0.1">10<tspan font-size="6.8" dy="-4.2">3</tspan></text>
<text x="65.3" y="403.1" font-size="10" text-anchor="end" fill="#1a1a1a" stroke="#1a1a1a" stroke-width="0.1">10<tspan font-size="6.8" dy="-4.2">4</tspan></text>
<text x="65.3" y="382.9" font-size="10" text-anchor="end" fill="#1a1a1a" stroke="#1a1a1a" stroke-width="0.1">10<tspan font-size="6.8" dy="-4.2">5</tspan></text>
<text x="65.3" y="362.7" font-size="10" text-anchor="end" fill="#1a1a1a" stroke="#1a1a1a" stroke-width="0.1">10<tspan font-size="6.8" dy="-4.2">6</tspan></text>
<text x="91.2" y="488.3" font-size="10" text-anchor="middle" fill="#1a1a1a" stroke="#1a1a1a" stroke-width="0.1">300</text>
<text x="127.1" y="488.3" font-size="10" text-anchor="middle" fill="#1a1a1a" stroke="#1a1a1a" stroke-width="0.1">450</text>
<text x="163" y="488.3" font-size="10" text-anchor="middle" fill="#1a1a1a" stroke="#1a1a1a" stroke-width="0.1">600</text>
<text x="113.7" y="503.8" font-size="12.8" text-anchor="middle" fill="#1a1a1a" stroke="#1a1a1a" stroke-width="0.25">Wavelength (nm)</text>
<line x1="69.9" y1="366" x2="81.3" y2="366" stroke="#a88ad4" stroke-width="1.3"/>
<text x="87.1" y="369.6" font-size="10" text-anchor="start" fill="#1a1a1a" stroke="#1a1a1a" stroke-width="0.1">50A/cm<tspan font-size="6.8" dy="-4.2">2</tspan></text>
<line x1="69.9" y1="379.2" x2="81.3" y2="379.2" stroke="#3ea274" stroke-width="1.3"/>
<text x="87.1" y="382.9" font-size="10" text-anchor="start" fill="#1a1a1a" stroke="#1a1a1a" stroke-width="0.1">20A/cm<tspan font-size="6.8" dy="-4.2">2</tspan></text>
<line x1="69.9" y1="392.5" x2="81.3" y2="392.5" stroke="#2f6ed0" stroke-width="1.3"/>
<text x="87.1" y="396.1" font-size="10" text-anchor="start" fill="#1a1a1a" stroke="#1a1a1a" stroke-width="0.1">10A/cm<tspan font-size="6.8" dy="-4.2">2</tspan></text>
<line x1="69.9" y1="405.8" x2="81.3" y2="405.8" stroke="#e0404a" stroke-width="1.3"/>
<text x="87.1" y="409.4" font-size="10" text-anchor="start" fill="#1a1a1a" stroke="#1a1a1a" stroke-width="0.1">5A/cm<tspan font-size="6.8" dy="-4.2">2</tspan></text>
<line x1="69.9" y1="419" x2="81.3" y2="419" stroke="#383838" stroke-width="1.3"/>
<text x="87.1" y="422.6" font-size="10" text-anchor="start" fill="#1a1a1a" stroke="#1a1a1a" stroke-width="0.1">1A/cm<tspan font-size="6.8" dy="-4.2">2</tspan></text>
<text x="263.5" y="328.5" font-size="20" text-anchor="start" fill="#1a1a1a" stroke="#1a1a1a" stroke-width="0.35">(c)</text>
<line x1="309.2" y1="508.8" x2="314.2" y2="508.8" stroke="#2b2b2b" stroke-width="1"/>
<line x1="508.8" y1="508.8" x2="503.8" y2="508.8" stroke="#2b2b2b" stroke-width="1"/>
<line x1="309.2" y1="497.2" x2="312.2" y2="497.2" stroke="#2b2b2b" stroke-width="1"/>
<line x1="508.8" y1="497.2" x2="505.8" y2="497.2" stroke="#2b2b2b" stroke-width="1"/>
<line x1="309.2" y1="485.7" x2="314.2" y2="485.7" stroke="#2b2b2b" stroke-width="1"/>
<line x1="508.8" y1="485.7" x2="503.8" y2="485.7" stroke="#2b2b2b" stroke-width="1"/>
<line x1="309.2" y1="474.2" x2="312.2" y2="474.2" stroke="#2b2b2b" stroke-width="1"/>
<line x1="508.8" y1="474.2" x2="505.8" y2="474.2" stroke="#2b2b2b" stroke-width="1"/>
<line x1="309.2" y1="462.7" x2="314.2" y2="462.7" stroke="#2b2b2b" stroke-width="1"/>
<line x1="508.8" y1="462.7" x2="503.8" y2="462.7" stroke="#2b2b2b" stroke-width="1"/>
<line x1="309.2" y1="451.2" x2="312.2" y2="451.2" stroke="#2b2b2b" stroke-width="1"/>
<line x1="508.8" y1="451.2" x2="505.8" y2="451.2" stroke="#2b2b2b" stroke-width="1"/>
<line x1="309.2" y1="439.6" x2="314.2" y2="439.6" stroke="#2b2b2b" stroke-width="1"/>
<line x1="508.8" y1="439.6" x2="503.8" y2="439.6" stroke="#2b2b2b" stroke-width="1"/>
<line x1="309.2" y1="428.1" x2="312.2" y2="428.1" stroke="#2b2b2b" stroke-width="1"/>
<line x1="508.8" y1="428.1" x2="505.8" y2="428.1" stroke="#2b2b2b" stroke-width="1"/>
<line x1="309.2" y1="416.6" x2="314.2" y2="416.6" stroke="#2b2b2b" stroke-width="1"/>
<line x1="508.8" y1="416.6" x2="503.8" y2="416.6" stroke="#2b2b2b" stroke-width="1"/>
<line x1="309.2" y1="405.1" x2="312.2" y2="405.1" stroke="#2b2b2b" stroke-width="1"/>
<line x1="508.8" y1="405.1" x2="505.8" y2="405.1" stroke="#2b2b2b" stroke-width="1"/>
<line x1="309.2" y1="393.6" x2="314.2" y2="393.6" stroke="#2b2b2b" stroke-width="1"/>
<line x1="508.8" y1="393.6" x2="503.8" y2="393.6" stroke="#2b2b2b" stroke-width="1"/>
<line x1="309.2" y1="382.1" x2="312.2" y2="382.1" stroke="#2b2b2b" stroke-width="1"/>
<line x1="508.8" y1="382.1" x2="505.8" y2="382.1" stroke="#2b2b2b" stroke-width="1"/>
<line x1="309.2" y1="370.5" x2="314.2" y2="370.5" stroke="#2b2b2b" stroke-width="1"/>
<line x1="508.8" y1="370.5" x2="503.8" y2="370.5" stroke="#2b2b2b" stroke-width="1"/>
<line x1="309.2" y1="359" x2="312.2" y2="359" stroke="#2b2b2b" stroke-width="1"/>
<line x1="508.8" y1="359" x2="505.8" y2="359" stroke="#2b2b2b" stroke-width="1"/>
<line x1="309.2" y1="347.5" x2="314.2" y2="347.5" stroke="#2b2b2b" stroke-width="1"/>
<line x1="508.8" y1="347.5" x2="503.8" y2="347.5" stroke="#2b2b2b" stroke-width="1"/>
<line x1="309.2" y1="508.8" x2="309.2" y2="505.8" stroke="#2b2b2b" stroke-width="1"/>
<line x1="331.4" y1="508.8" x2="331.4" y2="503.8" stroke="#2b2b2b" stroke-width="1"/>
<line x1="353.6" y1="508.8" x2="353.6" y2="505.8" stroke="#2b2b2b" stroke-width="1"/>
<line x1="375.8" y1="508.8" x2="375.8" y2="503.8" stroke="#2b2b2b" stroke-width="1"/>
<line x1="397.9" y1="508.8" x2="397.9" y2="505.8" stroke="#2b2b2b" stroke-width="1"/>
<line x1="420.1" y1="508.8" x2="420.1" y2="503.8" stroke="#2b2b2b" stroke-width="1"/>
<line x1="442.2" y1="508.8" x2="442.2" y2="505.8" stroke="#2b2b2b" stroke-width="1"/>
<line x1="464.4" y1="508.8" x2="464.4" y2="503.8" stroke="#2b2b2b" stroke-width="1"/>
<line x1="486.6" y1="508.8" x2="486.6" y2="505.8" stroke="#2b2b2b" stroke-width="1"/>
<line x1="508.8" y1="508.8" x2="508.8" y2="503.8" stroke="#2b2b2b" stroke-width="1"/>
<line x1="426" y1="347.5" x2="426" y2="351" stroke="#2b2b2b" stroke-width="1"/>
<line x1="399.8" y1="347.5" x2="399.8" y2="350" stroke="#2b2b2b" stroke-width="1"/>
<line x1="380.2" y1="347.5" x2="380.2" y2="351" stroke="#2b2b2b" stroke-width="1"/>
<line x1="364.9" y1="347.5" x2="364.9" y2="350" stroke="#2b2b2b" stroke-width="1"/>
<line x1="352.7" y1="347.5" x2="352.7" y2="351" stroke="#2b2b2b" stroke-width="1"/>
<line x1="342.7" y1="347.5" x2="342.7" y2="350" stroke="#2b2b2b" stroke-width="1"/>
<line x1="334.4" y1="347.5" x2="334.4" y2="351" stroke="#2b2b2b" stroke-width="1"/>
<line x1="327.3" y1="347.5" x2="327.3" y2="350" stroke="#2b2b2b" stroke-width="1"/>
<line x1="321.3" y1="347.5" x2="321.3" y2="351" stroke="#2b2b2b" stroke-width="1"/>
<line x1="316" y1="347.5" x2="316" y2="350" stroke="#2b2b2b" stroke-width="1"/>
<line x1="311.5" y1="347.5" x2="311.5" y2="351" stroke="#2b2b2b" stroke-width="1"/>
<text x="306.4" y="512.6" font-size="13" text-anchor="end" fill="#1a1a1a" stroke="#1a1a1a" stroke-width="0.25">0.0</text>
<text x="306.4" y="489.6" font-size="13" text-anchor="end" fill="#1a1a1a" stroke="#1a1a1a" stroke-width="0.25">0.5</text>
<text x="306.4" y="466.6" font-size="13" text-anchor="end" fill="#1a1a1a" stroke="#1a1a1a" stroke-width="0.25">1.0</text>
<text x="306.4" y="443.5" font-size="13" text-anchor="end" fill="#1a1a1a" stroke="#1a1a1a" stroke-width="0.25">1.5</text>
<text x="306.4" y="420.5" font-size="13" text-anchor="end" fill="#1a1a1a" stroke="#1a1a1a" stroke-width="0.25">2.0</text>
<text x="306.4" y="397.5" font-size="13" text-anchor="end" fill="#1a1a1a" stroke="#1a1a1a" stroke-width="0.25">2.5</text>
<text x="306.4" y="374.4" font-size="13" text-anchor="end" fill="#1a1a1a" stroke="#1a1a1a" stroke-width="0.25">3.0</text>
<text x="306.4" y="351.4" font-size="13" text-anchor="end" fill="#1a1a1a" stroke="#1a1a1a" stroke-width="0.25">3.5</text>
<text x="331.4" y="522" font-size="13" text-anchor="middle" fill="#1a1a1a" stroke="#1a1a1a" stroke-width="0.25">200</text>
<text x="375.8" y="522" font-size="13" text-anchor="middle" fill="#1a1a1a" stroke="#1a1a1a" stroke-width="0.25">300</text>
<text x="420.1" y="522" font-size="13" text-anchor="middle" fill="#1a1a1a" stroke="#1a1a1a" stroke-width="0.25">400</text>
<text x="464.4" y="522" font-size="13" text-anchor="middle" fill="#1a1a1a" stroke="#1a1a1a" stroke-width="0.25">500</text>
<text x="508.8" y="522" font-size="13" text-anchor="middle" fill="#1a1a1a" stroke="#1a1a1a" stroke-width="0.25">600</text>
<text x="311.5" y="341.5" font-size="11.5" text-anchor="middle" fill="#1a1a1a" stroke="#1a1a1a" stroke-width="0.1">8</text>
<text x="321.3" y="341.5" font-size="11.5" text-anchor="middle" fill="#1a1a1a" stroke="#1a1a1a" stroke-width="0.1">7</text>
<text x="334.4" y="341.5" font-size="11.5" text-anchor="middle" fill="#1a1a1a" stroke="#1a1a1a" stroke-width="0.1">6</text>
<text x="352.7" y="341.5" font-size="11.5" text-anchor="middle" fill="#1a1a1a" stroke="#1a1a1a" stroke-width="0.1">5</text>
<text x="380.2" y="341.5" font-size="11.5" text-anchor="middle" fill="#1a1a1a" stroke="#1a1a1a" stroke-width="0.1">4</text>
<text x="426" y="341.5" font-size="11.5" text-anchor="middle" fill="#1a1a1a" stroke="#1a1a1a" stroke-width="0.1">3</text>
<text x="422.2" y="324.3" font-size="17.3" text-anchor="middle" fill="#1a1a1a" stroke="#1a1a1a" stroke-width="0.35">Energy (eV)</text>
<text x="416.3" y="542.2" font-size="17.5" text-anchor="middle" fill="#1a1a1a" stroke="#1a1a1a" stroke-width="0.35">Wavelength (nm)</text>
<text x="282.5" y="495" font-size="16" text-anchor="start" fill="#1a1a1a" stroke="#1a1a1a" stroke-width="0.35" transform="rotate(-90 282.5 495)">Intensity (a.u.) x10<tspan font-size="10.08" dy="-6.4">5</tspan></text>
<path d="M411.2,508.8 L411.2,508.7 L411.4,508.7 L411.7,508.7 L411.9,508.7 L412.1,508.7 L412.3,508.7 L412.5,508.7 L412.8,508.7 L413,508.7 L413.2,508.7 L413.4,508.7 L413.7,508.7 L413.9,508.7 L414.1,508.7 L414.3,508.7 L414.5,508.7 L414.8,508.7 L415,508.7 L415.2,508.7 L415.4,508.7 L415.6,508.7 L415.9,508.7 L416.1,508.7 L416.3,508.7 L416.5,508.7 L416.8,508.7 L417,508.7 L417.2,508.7 L417.4,508.7 L417.6,508.7 L417.9,508.7 L418.1,508.7 L418.3,508.7 L418.5,508.7 L418.8,508.7 L419,508.7 L419.2,508.7 L419.4,508.7 L419.6,508.7 L419.9,508.7 L420.1,508.7 L420.3,508.7 L420.5,508.7 L420.7,508.7 L421,508.7 L421.2,508.7 L421.4,508.7 L421.6,508.7 L421.9,508.7 L422.1,508.7 L422.3,508.7 L422.5,508.7 L422.7,508.7 L423,508.7 L423.2,508.7 L423.4,508.7 L423.6,508.7 L423.9,508.7 L424.1,508.7 L424.3,508.7 L424.5,508.7 L424.7,508.7 L425,508.7 L425.2,508.7 L425.4,508.7 L425.6,508.7 L425.8,508.7 L426.1,508.7 L426.3,508.6 L426.5,508.6 L426.7,508.6 L427,508.6 L427.2,508.6 L427.4,508.5 L427.6,508.5 L427.8,508.5 L428.1,508.4 L428.3,508.4 L428.5,508.4 L428.7,508.3 L428.9,508.3 L429.2,508.2 L429.4,508.1 L429.6,508.1 L429.8,508 L430.1,508 L430.3,507.9 L430.5,507.8 L430.7,507.7 L430.9,507.6 L431.2,507.5 L431.4,507.4 L431.6,507.3 L431.8,507.2 L432.1,507.1 L432.3,506.9 L432.5,506.8 L432.7,506.6 L432.9,506.5 L433.2,506.3 L433.4,506.1 L433.6,505.9 L433.8,505.6 L434,505.4 L434.3,505.1 L434.5,504.8 L434.7,504.4 L434.9,504 L435.2,503.6 L435.4,503.2 L435.6,502.6 L435.8,502.1 L436,501.4 L436.3,500.7 L436.5,500 L436.7,499.1 L436.9,498.2 L437.2,497.2 L437.4,496.1 L437.6,495 L437.8,493.7 L438,492.4 L438.3,491.1 L438.5,489.6 L438.7,488.1 L438.9,486.6 L439.1,485 L439.4,483.4 L439.6,481.7 L439.8,479.9 L440,477.9 L440.3,475.7 L440.5,473.3 L440.7,470.6 L440.9,467.5 L441.1,463.8 L441.4,459.5 L441.6,454.7 L441.8,449.7 L442,444.7 L442.2,440 L442.5,435.4 L442.7,430.8 L442.9,426.2 L443.1,421.7 L443.4,417.2 L443.6,412.8 L443.8,408.3 L444,403.8 L444.2,399.2 L444.5,394.8 L444.7,390.5 L444.9,386.6 L445.1,383.1 L445.4,379.6 L445.6,376 L445.8,372.4 L446,368.9 L446.2,365.7 L446.5,363 L446.7,360.9 L446.9,359.6 L447.1,359.3 L447.3,359.8 L447.6,361.1 L447.8,363 L448,365.4 L448.2,368.1 L448.5,371.1 L448.7,374.2 L448.9,377.3 L449.1,380.3 L449.3,383.2 L449.6,386 L449.8,389 L450,392.2 L450.2,395.5 L450.5,398.8 L450.7,402.1 L450.9,405.4 L451.1,408.6 L451.3,411.7 L451.6,414.7 L451.8,417.6 L452,420.5 L452.2,423.3 L452.4,426 L452.7,428.8 L452.9,431.5 L453.1,434.1 L453.3,436.7 L453.6,439.3 L453.8,441.9 L454,444.5 L454.2,447 L454.4,449.5 L454.7,452 L454.9,454.4 L455.1,456.8 L455.3,459.1 L455.6,461.2 L455.8,463.3 L456,465.4 L456.2,467.3 L456.4,469.1 L456.7,470.8 L456.9,472.4 L457.1,474 L457.3,475.5 L457.5,476.9 L457.8,478.2 L458,479.5 L458.2,480.8 L458.4,482 L458.7,483.2 L458.9,484.4 L459.1,485.5 L459.3,486.5 L459.5,487.6 L459.8,488.6 L460,489.6 L460.2,490.6 L460.4,491.5 L460.6,492.4 L460.9,493.3 L461.1,494.2 L461.3,495 L461.5,495.8 L461.8,496.5 L462,497.3 L462.2,497.9 L462.4,498.6 L462.6,499.2 L462.9,499.8 L463.1,500.3 L463.3,500.8 L463.5,501.3 L463.8,501.8 L464,502.2 L464.2,502.6 L464.4,503 L464.6,503.3 L464.9,503.7 L465.1,504 L465.3,504.3 L465.5,504.5 L465.7,504.8 L466,505 L466.2,505.3 L466.4,505.5 L466.6,505.7 L466.9,505.9 L467.1,506 L467.3,506.2 L467.5,506.4 L467.7,506.5 L468,506.7 L468.2,506.8 L468.4,506.9 L468.6,507 L468.9,507.1 L469.1,507.2 L469.3,507.3 L469.5,507.4 L469.7,507.5 L470,507.6 L470.2,507.7 L470.4,507.7 L470.6,507.8 L470.8,507.8 L471.1,507.9 L471.3,507.9 L471.5,508 L471.7,508 L472,508.1 L472.2,508.1 L472.4,508.2 L472.6,508.2 L472.8,508.2 L473.1,508.3 L473.3,508.3 L473.5,508.3 L473.7,508.3 L473.9,508.4 L474.2,508.4 L474.4,508.4 L474.6,508.4 L474.8,508.4 L475.1,508.5 L475.3,508.5 L475.5,508.5 L475.7,508.5 L475.9,508.5 L476.2,508.5 L476.4,508.5 L476.6,508.6 L476.8,508.6 L477.1,508.6 L477.3,508.6 L477.5,508.6 L477.7,508.6 L477.9,508.6 L478.2,508.6 L478.4,508.6 L478.6,508.6 L478.8,508.6 L479,508.6 L479.3,508.7 L479.5,508.7 L479.7,508.7 L479.9,508.7 L480.2,508.7 L480.4,508.7 L480.6,508.7 L480.8,508.7 L481,508.7 L481.3,508.7 L481.5,508.7 L481.7,508.7 L481.9,508.7 L482.1,508.7 L482.4,508.7 L482.6,508.7 L482.8,508.7 L483,508.7 L483.3,508.7 L483.5,508.7 L483.7,508.7 L483.9,508.7 L484.1,508.7 L484.4,508.7 L484.6,508.7 L484.8,508.7 L485,508.7 L485.3,508.7 L485.5,508.7 L485.7,508.7 L485.9,508.7 L486.1,508.7 L486.4,508.7 L486.6,508.7 L486.8,508.7 L487,508.7 L487.2,508.7 L487.5,508.7 L487.7,508.7 L487.9,508.7 L488.1,508.7 L488.4,508.7 L488.6,508.7 L488.8,508.7 L489,508.7 L489.2,508.7 L489.5,508.7 L489.7,508.7 L489.9,508.7 L490.1,508.7 L490.4,508.7 L490.6,508.7 L490.8,508.7 L491,508.7 L491.2,508.7 L491.5,508.7 L491.7,508.7 L491.9,508.7 L492.1,508.7 L492.3,508.7 L492.6,508.7 L492.8,508.7 L493,508.7 L493.2,508.7 L493.5,508.7 L493.7,508.7 L493.9,508.7 L494.1,508.7 L494.3,508.7 L494.6,508.7 L494.8,508.7 L495,508.7 L495.2,508.7 L495.4,508.7 L495.7,508.7 L495.9,508.7 L496.1,508.7 L496.3,508.7 L496.6,508.7 L496.8,508.7 L497,508.7 L497.2,508.7 L497.4,508.7 L497.7,508.7 L497.9,508.7 L498.1,508.7 L498.3,508.7 L498.6,508.7 L498.8,508.7 L499,508.7 L499.2,508.7 L499.4,508.7 L499.7,508.7 L499.9,508.7 L500.1,508.7 L500.3,508.7 L500.5,508.7 L500.8,508.7 L501,508.7 L501.2,508.7 L501.4,508.7 L501.7,508.7 L501.9,508.7 L502.1,508.7 L502.3,508.7 L502.5,508.7 L502.8,508.7 L503,508.7 L503.2,508.7 L503.4,508.7 L503.7,508.7 L503.9,508.7 L504.1,508.7 L504.3,508.7 L504.5,508.7 L504.8,508.7 L505,508.7 L505.2,508.7 L505.4,508.7 L505.6,508.7 L505.9,508.7 L506.1,508.7 L506.3,508.7 L506.5,508.7 L506.8,508.7 L507,508.7 L507.2,508.7 L507.4,508.7 L507.6,508.7 L507.9,508.7 L508.1,508.7 L508.3,508.7 L508.5,508.7 L508.8,508.7 L508.8,508.8 Z" fill="#f8a0a4" stroke="none"/>
<path d="M331.4,508.1 L411.2,508.1 L411.2,508.1 L411.4,508.1 L411.7,508.1 L411.9,508.1 L412.1,508.1 L412.3,508.1 L412.5,508.1 L412.8,508.1 L413,508.1 L413.2,508.1 L413.4,508.1 L413.7,508.1 L413.9,508.1 L414.1,508.1 L414.3,508.1 L414.5,508.1 L414.8,508.1 L415,508.1 L415.2,508.1 L415.4,508.1 L415.6,508.1 L415.9,508.1 L416.1,508.1 L416.3,508.1 L416.5,508.1 L416.8,508.1 L417,508.1 L417.2,508.1 L417.4,508.1 L417.6,508.1 L417.9,508.1 L418.1,508.1 L418.3,508.1 L418.5,508.1 L418.8,508.1 L419,508.1 L419.2,508.1 L419.4,508.1 L419.6,508.1 L419.9,508.1 L420.1,508.1 L420.3,508.1 L420.5,508.1 L420.7,508.1 L421,508.1 L421.2,508.1 L421.4,508.1 L421.6,508.1 L421.9,508.1 L422.1,508.1 L422.3,508.1 L422.5,508.1 L422.7,508.1 L423,508.1 L423.2,508.1 L423.4,508.1 L423.6,508.1 L423.9,508.1 L424.1,508.1 L424.3,508.1 L424.5,508.1 L424.7,508.1 L425,508.1 L425.2,508.1 L425.4,508.1 L425.6,508.1 L425.8,508.1 L426.1,508.1 L426.3,508.1 L426.5,508.1 L426.7,508.1 L427,508.1 L427.2,508.1 L427.4,508.1 L427.6,508.1 L427.8,508.1 L428.1,508.1 L428.3,508.1 L428.5,508.1 L428.7,508.1 L428.9,508.1 L429.2,508.1 L429.4,508.1 L429.6,508.1 L429.8,508 L430.1,508 L430.3,507.9 L430.5,507.8 L430.7,507.7 L430.9,507.6 L431.2,507.5 L431.4,507.4 L431.6,507.3 L431.8,507.2 L432.1,507.1 L432.3,506.9 L432.5,506.8 L432.7,506.6 L432.9,506.5 L433.2,506.3 L433.4,506.1 L433.6,505.9 L433.8,505.6 L434,505.4 L434.3,505.1 L434.5,504.8 L434.7,504.4 L434.9,504 L435.2,503.6 L435.4,503.2 L435.6,502.6 L435.8,502.1 L436,501.4 L436.3,500.7 L436.5,500 L436.7,499.1 L436.9,498.2 L437.2,497.2 L437.4,496.1 L437.6,495 L437.8,493.7 L438,492.4 L438.3,491.1 L438.5,489.6 L438.7,488.1 L438.9,486.6 L439.1,485 L439.4,483.4 L439.6,481.7 L439.8,479.9 L440,477.9 L440.3,475.7 L440.5,473.3 L440.7,470.6 L440.9,467.5 L441.1,463.8 L441.4,459.5 L441.6,454.7 L441.8,449.7 L442,444.7 L442.2,440 L442.5,435.4 L442.7,430.8 L442.9,426.2 L443.1,421.7 L443.4,417.2 L443.6,412.8 L443.8,408.3 L444,403.8 L444.2,399.2 L444.5,394.8 L444.7,390.5 L444.9,386.6 L445.1,383.1 L445.4,379.6 L445.6,376 L445.8,372.4 L446,368.9 L446.2,365.7 L446.5,363 L446.7,360.9 L446.9,359.6 L447.1,359.3 L447.3,359.8 L447.6,361.1 L447.8,363 L448,365.4 L448.2,368.1 L448.5,371.1 L448.7,374.2 L448.9,377.3 L449.1,380.3 L449.3,383.2 L449.6,386 L449.8,389 L450,392.2 L450.2,395.5 L450.5,398.8 L450.7,402.1 L450.9,405.4 L451.1,408.6 L451.3,411.7 L451.6,414.7 L451.8,417.6 L452,420.5 L452.2,423.3 L452.4,426 L452.7,428.8 L452.9,431.5 L453.1,434.1 L453.3,436.7 L453.6,439.3 L453.8,441.9 L454,444.5 L454.2,447 L454.4,449.5 L454.7,452 L454.9,454.4 L455.1,456.8 L455.3,459.1 L455.6,461.2 L455.8,463.3 L456,465.4 L456.2,467.3 L456.4,469.1 L456.7,470.8 L456.9,472.4 L457.1,474 L457.3,475.5 L457.5,476.9 L457.8,478.2 L458,479.5 L458.2,480.8 L458.4,482 L458.7,483.2 L458.9,484.4 L459.1,485.5 L459.3,486.5 L459.5,487.6 L459.8,488.6 L460,489.6 L460.2,490.6 L460.4,491.5 L460.6,492.4 L460.9,493.3 L461.1,494.2 L461.3,495 L461.5,495.8 L461.8,496.5 L462,497.3 L462.2,497.9 L462.4,498.6 L462.6,499.2 L462.9,499.8 L463.1,500.3 L463.3,500.8 L463.5,501.3 L463.8,501.8 L464,502.2 L464.2,502.6 L464.4,503 L464.6,503.3 L464.9,503.7 L465.1,504 L465.3,504.3 L465.5,504.5 L465.7,504.8 L466,505 L466.2,505.3 L466.4,505.5 L466.6,505.7 L466.9,505.9 L467.1,506 L467.3,506.2 L467.5,506.4 L467.7,506.5 L468,506.7 L468.2,506.8 L468.4,506.9 L468.6,507 L468.9,507.1 L469.1,507.2 L469.3,507.3 L469.5,507.4 L469.7,507.5 L470,507.6 L470.2,507.7 L470.4,507.7 L470.6,507.8 L470.8,507.8 L471.1,507.9 L471.3,507.9 L471.5,508 L471.7,508 L472,508.1 L472.2,508.1 L472.4,508.1 L472.6,508.1 L472.8,508.1 L473.1,508.1 L473.3,508.1 L473.5,508.1 L473.7,508.1 L473.9,508.1 L474.2,508.1 L474.4,508.1 L474.6,508.1 L474.8,508.1 L475.1,508.1 L475.3,508.1 L475.5,508.1 L475.7,508.1 L475.9,508.1 L476.2,508.1 L476.4,508.1 L476.6,508.1 L476.8,508.1 L477.1,508.1 L477.3,508.1 L477.5,508.1 L477.7,508.1 L477.9,508.1 L478.2,508.1 L478.4,508.1 L478.6,508.1 L478.8,508.1 L479,508.1 L479.3,508.1 L479.5,508.1 L479.7,508.1 L479.9,508.1 L480.2,508.1 L480.4,508.1 L480.6,508.1 L480.8,508.1 L481,508.1 L481.3,508.1 L481.5,508.1 L481.7,508.1 L481.9,508.1 L482.1,508.1 L482.4,508.1 L482.6,508.1 L482.8,508.1 L483,508.1 L483.3,508.1 L483.5,508.1 L483.7,508.1 L483.9,508.1 L484.1,508.1 L484.4,508.1 L484.6,508.1 L484.8,508.1 L485,508.1 L485.3,508.1 L485.5,508.1 L485.7,508.1 L485.9,508.1 L486.1,508.1 L486.4,508.1 L486.6,508.1 L486.8,508.1 L487,508.1 L487.2,508.1 L487.5,508.1 L487.7,508.1 L487.9,508.1 L488.1,508.1 L488.4,508.1 L488.6,508.1 L488.8,508.1 L489,508.1 L489.2,508.1 L489.5,508.1 L489.7,508.1 L489.9,508.1 L490.1,508.1 L490.4,508.1 L490.6,508.1 L490.8,508.1 L491,508.1 L491.2,508.1 L491.5,508.1 L491.7,508.1 L491.9,508.1 L492.1,508.1 L492.3,508.1 L492.6,508.1 L492.8,508.1 L493,508.1 L493.2,508.1 L493.5,508.1 L493.7,508.1 L493.9,508.1 L494.1,508.1 L494.3,508.1 L494.6,508.1 L494.8,508.1 L495,508.1 L495.2,508.1 L495.4,508.1 L495.7,508.1 L495.9,508.1 L496.1,508.1 L496.3,508.1 L496.6,508.1 L496.8,508.1 L497,508.1 L497.2,508.1 L497.4,508.1 L497.7,508.1 L497.9,508.1 L498.1,508.1 L498.3,508.1 L498.6,508.1 L498.8,508.1 L499,508.1 L499.2,508.1 L499.4,508.1 L499.7,508.1 L499.9,508.1 L500.1,508.1 L500.3,508.1 L500.5,508.1 L500.8,508.1 L501,508.1 L501.2,508.1 L501.4,508.1 L501.7,508.1 L501.9,508.1 L502.1,508.1 L502.3,508.1 L502.5,508.1 L502.8,508.1 L503,508.1 L503.2,508.1 L503.4,508.1 L503.7,508.1 L503.9,508.1 L504.1,508.1 L504.3,508.1 L504.5,508.1 L504.8,508.1 L505,508.1 L505.2,508.1 L505.4,508.1 L505.6,508.1 L505.9,508.1 L506.1,508.1 L506.3,508.1 L506.5,508.1 L506.8,508.1 L507,508.1 L507.2,508.1 L507.4,508.1 L507.6,508.1 L507.9,508.1 L508.1,508.1 L508.3,508.1 L508.5,508.1 L508.8,508.1" fill="none" stroke="#b82838" stroke-width="1.4" stroke-linejoin="round"/>
<line x1="444.2" y1="440.4" x2="451.9" y2="440.4" stroke="#111" stroke-width="1.1"/>
<path d="M442.2,440.4 L445.4,438.5 L445.4,442.3 Z" fill="#111" stroke="#111" stroke-width="0.4" stroke-linejoin="round"/>
<path d="M453.9,440.4 L450.7,438.5 L450.7,442.3 Z" fill="#111" stroke="#111" stroke-width="0.4" stroke-linejoin="round"/>
<text x="458.8" y="442.1" font-size="14.3" text-anchor="start" fill="#1a1a1a" stroke="#1a1a1a" stroke-width="0.25">FWHM</text>
<text x="458.8" y="458.2" font-size="14.3" text-anchor="start" fill="#1a1a1a" stroke="#1a1a1a" stroke-width="0.25">=21nm</text>
<rect x="309.2" y="347.5" width="199.5" height="161.2" fill="none" stroke="#2b2b2b" stroke-width="1.3"/>
<text x="462.6" y="371" font-size="17.3" text-anchor="start" fill="#cc2230" stroke="#cc2230" stroke-width="0.35">AlN</text>
<text x="462.6" y="391.3" font-size="17.3" text-anchor="start" fill="#cc2230" stroke="#cc2230" stroke-width="0.35">BTJ</text>
<rect x="328.6" y="358.8" width="95.3" height="121.5" fill="#fff"/>
<path d="M328.6,469.6 L328.9,462.2 L329.2,468.2 L329.5,463.1 L329.8,469.8 L330.1,465.5 L330.4,464.6 L330.7,465 L331,461.2 L331.3,461.5 L331.6,462 L332,465.1 L332.3,469.5 L332.6,468.1 L332.9,469 L333.2,463.7 L333.5,470.8 L333.8,464.1 L334.1,469.6 L334.4,463.9 L334.7,467.4 L335.1,464.1 L335.4,463.2 L335.7,467.2 L336,476.2 L336.3,466.1 L336.6,463.6 L336.9,480.3 L337.2,467.8 L337.5,469.7 L337.8,459.1 L338.2,459.7 L338.5,461.1 L338.8,461.2 L339.1,462.9 L339.4,465.4 L339.7,463.1 L340,470.2 L340.3,462 L340.6,462.9 L340.9,464.5 L341.2,480.3 L341.6,468.8 L341.9,465.9 L342.2,480.3 L342.5,463 L342.8,462.9 L343.1,469.2 L343.4,462.7 L343.7,461.7 L344,472.5 L344.3,467.7 L344.7,463.7 L345,465.1 L345.3,462.6 L345.6,461.8 L345.9,474.6 L346.2,464.2 L346.5,480.3 L346.8,469.9 L347.1,466.4 L347.4,460.9 L347.8,470.7 L348.1,465.7 L348.4,461.8 L348.7,462 L349,460.5 L349.3,461.9 L349.6,464.1 L349.9,461.2 L350.2,465.9 L350.5,461.7 L350.9,468.6 L351.2,459.3 L351.5,460.3 L351.8,465.9 L352.1,459.1 L352.4,467.5 L352.7,458.8 L353,460.9 L353.3,464.5 L353.6,464.5 L353.9,468.3 L354.3,462.5 L354.6,461.6 L354.9,459.8 L355.2,465.9 L355.5,462.2 L355.8,460.1 L356.1,461.6 L356.4,461.2 L356.7,463 L357,475.5 L357.4,466.7 L357.7,466.8 L358,461.2 L358.3,460.7 L358.6,464.7 L358.9,462.9 L359.2,461.7 L359.5,465 L359.8,462.4 L360.1,457.9 L360.5,460.5 L360.8,459.2 L361.1,461.1 L361.4,461.3 L361.7,463.1 L362,459.3 L362.3,472.2 L362.6,464.4 L362.9,463.7 L363.2,462.3 L363.5,468.4 L363.9,464.6 L364.2,480.3 L364.5,462.2 L364.8,462.2 L365.1,459.4 L365.4,460.3 L365.7,463.8 L366,463.4 L366.3,459.1 L366.6,459.3 L367,463.3 L367.3,462.6 L367.6,462.2 L367.9,463.3 L368.2,461.5 L368.5,461.7 L368.8,464.8 L369.1,457.8 L369.4,464.3 L369.7,460.2 L370.1,458.2 L370.4,462.8 L370.7,462.5 L371,459.4 L371.3,459.8 L371.6,466.6 L371.9,459.1 L372.2,463.5 L372.5,460.9 L372.8,461.3 L373.2,465.3 L373.5,463.5 L373.8,458.7 L374.1,462.4 L374.4,459.7 L374.7,458 L375,468.3 L375.3,463.3 L375.6,458.2 L375.9,460.2 L376.2,461.7 L376.6,464.6 L376.9,461.2 L377.2,461.5 L377.5,460.8 L377.8,457.7 L378.1,460.5 L378.4,458 L378.7,462.5 L379,460.4 L379.3,467.2 L379.7,463 L380,461.3 L380.3,462.6 L380.6,465 L380.9,480.3 L381.2,480.3 L381.5,467.3 L381.8,480.3 L382.1,463.8 L382.4,464.1 L382.8,466.2 L383.1,463.2 L383.4,461.9 L383.7,453.6 L384,457.6 L384.3,451.3 L384.6,449.5 L384.9,448.1 L385.2,445.7 L385.5,443.2 L385.8,440.8 L386.2,439.4 L386.5,437 L386.8,435.7 L387.1,433.3 L387.4,432.1 L387.7,431.2 L388,429.4 L388.3,427.8 L388.6,426.2 L388.9,425.3 L389.3,424.8 L389.6,424 L389.9,423.5 L390.2,422.9 L390.5,422.2 L390.8,422 L391.1,422.6 L391.4,422.8 L391.7,422.8 L392,422.7 L392.4,423.6 L392.7,423.4 L393,424.1 L393.3,424.5 L393.6,424.2 L393.9,424.8 L394.2,425.6 L394.5,425.7 L394.8,425.6 L395.1,426.2 L395.5,427.7 L395.8,427.1 L396.1,427.4 L396.4,428.4 L396.7,429.1 L397,429.8 L397.3,429.5 L397.6,431 L397.9,431.3 L398.2,431.5 L398.5,432.1 L398.9,432.8 L399.2,434.2 L399.5,433.9 L399.8,434.6 L400.1,434.5 L400.4,435.5 L400.7,435 L401,436.7 L401.3,435.6 L401.6,437.7 L402,437.9 L402.3,438.1 L402.6,438.8 L402.9,438.9 L403.2,438.3 L403.5,439.9 L403.8,440.9 L404.1,441.1 L404.4,441.1 L404.7,442 L405.1,441.9 L405.4,442.5 L405.7,442.8 L406,442.7 L406.3,443.5 L406.6,443.2 L406.9,443.7 L407.2,443.4 L407.5,446.5 L407.8,446.7 L408.1,445.1 L408.5,447.3 L408.8,447.5 L409.1,446.8 L409.4,448.6 L409.7,450 L410,449.5 L410.3,447.5 L410.6,449 L410.9,450.2 L411.2,450.6 L411.6,449.7 L411.9,451.4 L412.2,451.7 L412.5,451.9 L412.8,456.1 L413.1,454.8 L413.4,451.7 L413.7,453.1 L414,455.4 L414.3,451.8 L414.7,454.4 L415,454.7 L415.3,453.3 L415.6,453 L415.9,452.8 L416.2,457.5 L416.5,456.5 L416.8,455.2 L417.1,453.4 L417.4,456.7 L417.8,455.7 L418.1,454.2 L418.4,457 L418.7,456.8 L419,459.2 L419.3,461.6 L419.6,457.3 L419.9,458.7 L420.2,457.9 L420.5,460.1 L420.8,459.8 L421.2,459.4 L421.5,461.3 L421.8,455.5 L422.1,457.6 L422.4,460.5 L422.7,461.9 L423,458.7 L423.3,463.7 L423.6,461.1" fill="none" stroke="#383838" stroke-width="0.9" stroke-linejoin="round"/>
<path d="M328.6,457.9 L328.9,458.8 L329.2,457.6 L329.5,461 L329.8,461.3 L330.1,460.4 L330.4,458.5 L330.7,458 L331,457.8 L331.3,458.5 L331.6,459.1 L332,462 L332.3,460.7 L332.6,462.1 L332.9,457.5 L333.2,457.2 L333.5,459.9 L333.8,458.3 L334.1,459.3 L334.4,460.3 L334.7,460.9 L335.1,456.5 L335.4,456.7 L335.7,456.2 L336,459.2 L336.3,457 L336.6,458.8 L336.9,458.1 L337.2,456.6 L337.5,458.7 L337.8,457.4 L338.2,455.7 L338.5,455.1 L338.8,458.1 L339.1,457 L339.4,456.1 L339.7,457.3 L340,457.2 L340.3,457.4 L340.6,456.5 L340.9,457.2 L341.2,455.5 L341.6,457.5 L341.9,458.2 L342.2,457 L342.5,459.6 L342.8,460.8 L343.1,456.4 L343.4,456.2 L343.7,462.2 L344,457.4 L344.3,457.2 L344.7,457.1 L345,464.3 L345.3,456.9 L345.6,457.8 L345.9,458.1 L346.2,460.8 L346.5,457.3 L346.8,459 L347.1,459.4 L347.4,455.4 L347.8,455.4 L348.1,456.9 L348.4,456.5 L348.7,454.4 L349,456.4 L349.3,457.3 L349.6,456.3 L349.9,458.3 L350.2,455.7 L350.5,456.2 L350.9,455.5 L351.2,456.9 L351.5,459.6 L351.8,456.5 L352.1,455.7 L352.4,456.9 L352.7,455.4 L353,458.6 L353.3,456.7 L353.6,456.4 L353.9,455.9 L354.3,457.7 L354.6,455.4 L354.9,456.1 L355.2,456.2 L355.5,456.1 L355.8,456.2 L356.1,457 L356.4,455.8 L356.7,457.9 L357,455.8 L357.4,458.4 L357.7,456.2 L358,458.1 L358.3,456.6 L358.6,455.5 L358.9,459.6 L359.2,456.9 L359.5,474 L359.8,454 L360.1,458.3 L360.5,456.7 L360.8,457.2 L361.1,454.5 L361.4,455.7 L361.7,461.8 L362,454.6 L362.3,456 L362.6,459 L362.9,455.1 L363.2,455 L363.5,456.9 L363.9,454.6 L364.2,454.9 L364.5,453.9 L364.8,453.9 L365.1,458.1 L365.4,453.3 L365.7,457.2 L366,456.7 L366.3,454.5 L366.6,454.4 L367,454.8 L367.3,454.5 L367.6,457 L367.9,455 L368.2,454.3 L368.5,456.2 L368.8,458.3 L369.1,455.9 L369.4,457.8 L369.7,454.5 L370.1,454.9 L370.4,455.2 L370.7,456.7 L371,454.6 L371.3,454.4 L371.6,455.1 L371.9,455.5 L372.2,455.7 L372.5,456.3 L372.8,455.6 L373.2,456.1 L373.5,452.8 L373.8,454.6 L374.1,455.5 L374.4,456.1 L374.7,454.8 L375,456.4 L375.3,456.4 L375.6,453.4 L375.9,453.7 L376.2,454.5 L376.6,456.1 L376.9,454.6 L377.2,455.9 L377.5,454.5 L377.8,453.5 L378.1,454.7 L378.4,455.9 L378.7,454.3 L379,452.4 L379.3,456.9 L379.7,452.4 L380,453.4 L380.3,456.3 L380.6,458.3 L380.9,463.2 L381.2,453.2 L381.5,447.8 L381.8,445.4 L382.1,442 L382.4,439.4 L382.8,437.3 L383.1,435.7 L383.4,433.5 L383.7,431.3 L384,429.6 L384.3,427.4 L384.6,425 L384.9,422.7 L385.2,420.7 L385.5,418.5 L385.8,416.5 L386.2,414.5 L386.5,412.5 L386.8,410.5 L387.1,408.8 L387.4,407 L387.7,405.6 L388,404.1 L388.3,402.7 L388.6,401.5 L388.9,400.6 L389.3,399.6 L389.6,398.9 L389.9,398.4 L390.2,397.9 L390.5,397.4 L390.8,397.3 L391.1,397.6 L391.4,397.9 L391.7,398.2 L392,398.4 L392.4,398.8 L392.7,399.1 L393,399.5 L393.3,399.9 L393.6,400.2 L393.9,400.6 L394.2,401.1 L394.5,401.5 L394.8,402.1 L395.1,402.6 L395.5,403.3 L395.8,404 L396.1,404.6 L396.4,405.5 L396.7,406.2 L397,407 L397.3,407.8 L397.6,408.5 L397.9,409.3 L398.2,409.9 L398.5,410.5 L398.9,411.1 L399.2,411.9 L399.5,412.4 L399.8,413 L400.1,413.7 L400.4,414.2 L400.7,414.8 L401,415.5 L401.3,416.1 L401.6,416.7 L402,417.3 L402.3,417.7 L402.6,418.5 L402.9,419 L403.2,419.7 L403.5,420.4 L403.8,421 L404.1,421.4 L404.4,422.3 L404.7,422.6 L405.1,423.4 L405.4,423.9 L405.7,424.5 L406,425.1 L406.3,425.5 L406.6,426.3 L406.9,426.7 L407.2,427.4 L407.5,428 L407.8,428.8 L408.1,429.2 L408.5,429.8 L408.8,430.3 L409.1,430.6 L409.4,431.3 L409.7,432.3 L410,432.2 L410.3,432.6 L410.6,433.6 L410.9,433.9 L411.2,434.6 L411.6,434.8 L411.9,435.7 L412.2,436.7 L412.5,435.3 L412.8,436.8 L413.1,436.9 L413.4,438 L413.7,438.2 L414,439.1 L414.3,439.1 L414.7,438.9 L415,440 L415.3,440.7 L415.6,441.3 L415.9,440.2 L416.2,440.7 L416.5,441 L416.8,441.3 L417.1,442.5 L417.4,441.9 L417.8,441.7 L418.1,443.9 L418.4,444 L418.7,444.5 L419,444.2 L419.3,444.7 L419.6,445.4 L419.9,446.4 L420.2,446.1 L420.5,446.1 L420.8,445.9 L421.2,446 L421.5,446.2 L421.8,448 L422.1,447.5 L422.4,448 L422.7,447 L423,450.2 L423.3,448.9 L423.6,448.9" fill="none" stroke="#e0404a" stroke-width="0.9" stroke-linejoin="round"/>
<path d="M328.6,449.7 L328.9,448.3 L329.2,450.6 L329.5,453.9 L329.8,451.8 L330.1,453.2 L330.4,452.7 L330.7,452.1 L331,450.8 L331.3,452.6 L331.6,450.1 L332,449 L332.3,451.1 L332.6,450.9 L332.9,449.5 L333.2,448.9 L333.5,450.1 L333.8,450 L334.1,448.1 L334.4,448.6 L334.7,451 L335.1,447.8 L335.4,451.2 L335.7,449.5 L336,448.6 L336.3,450.5 L336.6,451 L336.9,448.2 L337.2,450.3 L337.5,448.4 L337.8,448.4 L338.2,450.4 L338.5,449.8 L338.8,448.7 L339.1,449.5 L339.4,450.3 L339.7,446.9 L340,447.4 L340.3,448.1 L340.6,449 L340.9,449.3 L341.2,451.1 L341.6,450.6 L341.9,451.3 L342.2,452.1 L342.5,448.4 L342.8,447.2 L343.1,449 L343.4,449.1 L343.7,448.3 L344,449.3 L344.3,447.8 L344.7,449.3 L345,453.2 L345.3,450.4 L345.6,450.7 L345.9,451.4 L346.2,451.4 L346.5,449.9 L346.8,450 L347.1,448.6 L347.4,449.8 L347.8,448.7 L348.1,447.6 L348.4,447.6 L348.7,449.9 L349,447.4 L349.3,448.4 L349.6,448.4 L349.9,446.9 L350.2,447 L350.5,447.9 L350.9,449.3 L351.2,447.5 L351.5,450.5 L351.8,447.1 L352.1,447.1 L352.4,450.6 L352.7,446 L353,450.1 L353.3,448.2 L353.6,447 L353.9,447.5 L354.3,448.1 L354.6,447 L354.9,448.4 L355.2,448.2 L355.5,448.6 L355.8,447.9 L356.1,446.6 L356.4,449.9 L356.7,447.5 L357,448.6 L357.4,446.1 L357.7,449.1 L358,448.7 L358.3,449.1 L358.6,448.3 L358.9,449.3 L359.2,449.1 L359.5,448.3 L359.8,447.5 L360.1,448.7 L360.5,447.5 L360.8,448.8 L361.1,447.1 L361.4,445.9 L361.7,446.7 L362,446.9 L362.3,447.7 L362.6,447.4 L362.9,447 L363.2,446.9 L363.5,446.2 L363.9,446.8 L364.2,445.8 L364.5,447.8 L364.8,448.1 L365.1,446.2 L365.4,446.8 L365.7,447.2 L366,446.8 L366.3,449.8 L366.6,447.5 L367,446.5 L367.3,447.6 L367.6,450.1 L367.9,446.2 L368.2,446 L368.5,448 L368.8,446.2 L369.1,444.9 L369.4,445.9 L369.7,446.7 L370.1,446.3 L370.4,446.4 L370.7,446 L371,445.9 L371.3,446.5 L371.6,446.2 L371.9,447.1 L372.2,447.1 L372.5,446.6 L372.8,447.7 L373.2,445.7 L373.5,445 L373.8,446.7 L374.1,447.5 L374.4,446.4 L374.7,447 L375,445.7 L375.3,445.7 L375.6,445.2 L375.9,446 L376.2,445.7 L376.6,445.6 L376.9,446.6 L377.2,446 L377.5,445.5 L377.8,448.3 L378.1,444.6 L378.4,446.1 L378.7,447.9 L379,447.2 L379.3,445.7 L379.7,445.1 L380,445.2 L380.3,445.1 L380.6,449 L380.9,450.3 L381.2,446.1 L381.5,439 L381.8,434.7 L382.1,432 L382.4,429.2 L382.8,427.2 L383.1,425.2 L383.4,423.6 L383.7,421.9 L384,419.7 L384.3,417.3 L384.6,415.3 L384.9,413 L385.2,410.9 L385.5,408.7 L385.8,406.6 L386.2,404.4 L386.5,402.5 L386.8,400.6 L387.1,398.8 L387.4,397.2 L387.7,395.6 L388,394.1 L388.3,392.8 L388.6,391.7 L388.9,390.6 L389.3,389.8 L389.6,389 L389.9,388.5 L390.2,388 L390.5,387.5 L390.8,387.4 L391.1,387.7 L391.4,388 L391.7,388.3 L392,388.8 L392.4,389.1 L392.7,389.5 L393,389.9 L393.3,390.4 L393.6,390.8 L393.9,391.3 L394.2,391.8 L394.5,392.3 L394.8,393 L395.1,393.5 L395.5,394.3 L395.8,395.1 L396.1,396 L396.4,396.8 L396.7,397.6 L397,398.6 L397.3,399.5 L397.6,400.3 L397.9,401.2 L398.2,402 L398.5,402.6 L398.9,403.4 L399.2,403.9 L399.5,404.9 L399.8,405.5 L400.1,406.4 L400.4,407.1 L400.7,407.6 L401,408.3 L401.3,409.1 L401.6,409.9 L402,410.4 L402.3,411.1 L402.6,411.9 L402.9,412.7 L403.2,413.2 L403.5,414 L403.8,414.5 L404.1,415.3 L404.4,415.9 L404.7,416.5 L405.1,417.2 L405.4,418 L405.7,418.7 L406,419.2 L406.3,420.1 L406.6,420.7 L406.9,421.3 L407.2,421.8 L407.5,423.2 L407.8,423.3 L408.1,424.4 L408.5,424.6 L408.8,425.6 L409.1,426.8 L409.4,427 L409.7,427.2 L410,427.8 L410.3,428 L410.6,428.5 L410.9,429.3 L411.2,430.5 L411.6,430.2 L411.9,431.5 L412.2,431 L412.5,433.4 L412.8,432.4 L413.1,433.2 L413.4,433.8 L413.7,434.5 L414,434.2 L414.3,434.8 L414.7,437.1 L415,435.6 L415.3,436.3 L415.6,436.7 L415.9,438 L416.2,438.9 L416.5,438.2 L416.8,439.3 L417.1,439.1 L417.4,439.6 L417.8,441.6 L418.1,439.2 L418.4,440.8 L418.7,441.8 L419,440.5 L419.3,442.3 L419.6,444 L419.9,444.6 L420.2,442.1 L420.5,442.8 L420.8,443.8 L421.2,444.6 L421.5,445.1 L421.8,445.6 L422.1,443.6 L422.4,447.3 L422.7,445.9 L423,445.5 L423.3,445.6 L423.6,447.1" fill="none" stroke="#2f6ed0" stroke-width="0.9" stroke-linejoin="round"/>
<path d="M328.6,443.6 L328.9,445.5 L329.2,445.3 L329.5,446.1 L329.8,445.6 L330.1,446.3 L330.4,446.4 L330.7,444.5 L331,446.2 L331.3,445.5 L331.6,445.7 L332,445.7 L332.3,444.6 L332.6,445.6 L332.9,445.4 L333.2,446.2 L333.5,446.1 L333.8,445.1 L334.1,444.3 L334.4,445.1 L334.7,443.9 L335.1,445.8 L335.4,444.7 L335.7,444.7 L336,445.2 L336.3,444.7 L336.6,445.6 L336.9,444.5 L337.2,443.4 L337.5,443.4 L337.8,444.1 L338.2,446 L338.5,444.1 L338.8,443.7 L339.1,443.4 L339.4,443.2 L339.7,444.5 L340,444 L340.3,443.4 L340.6,443.6 L340.9,444.4 L341.2,444.1 L341.6,446.2 L341.9,442.9 L342.2,444.4 L342.5,444 L342.8,445.3 L343.1,443.8 L343.4,446 L343.7,445.1 L344,445.1 L344.3,445.9 L344.7,443.9 L345,442.8 L345.3,443.3 L345.6,443.1 L345.9,443.8 L346.2,442.8 L346.5,445.2 L346.8,446.8 L347.1,443.8 L347.4,445.4 L347.8,446 L348.1,445.3 L348.4,444.3 L348.7,443.9 L349,445.1 L349.3,444.6 L349.6,443.4 L349.9,442.7 L350.2,443.7 L350.5,443.7 L350.9,444.8 L351.2,446.7 L351.5,442.8 L351.8,443.1 L352.1,443.5 L352.4,444.7 L352.7,445.3 L353,441.5 L353.3,443 L353.6,444.7 L353.9,444.3 L354.3,443.1 L354.6,443.6 L354.9,444.4 L355.2,442.9 L355.5,443.8 L355.8,445.4 L356.1,444.4 L356.4,444.1 L356.7,444.5 L357,443.4 L357.4,443.1 L357.7,441.9 L358,441.4 L358.3,441.5 L358.6,443.6 L358.9,442.9 L359.2,442.9 L359.5,443.5 L359.8,443.3 L360.1,443.5 L360.5,442.3 L360.8,442.2 L361.1,442.6 L361.4,441.5 L361.7,444.6 L362,442.8 L362.3,442.7 L362.6,442.6 L362.9,443.5 L363.2,442.3 L363.5,442.8 L363.9,442.1 L364.2,442.8 L364.5,443.2 L364.8,442.5 L365.1,441 L365.4,441.9 L365.7,442 L366,442.1 L366.3,442.5 L366.6,440.8 L367,443.2 L367.3,440.5 L367.6,442.8 L367.9,442.3 L368.2,442 L368.5,440.9 L368.8,442.3 L369.1,442.2 L369.4,440.7 L369.7,442.2 L370.1,440.4 L370.4,440.9 L370.7,442.8 L371,441 L371.3,442 L371.6,441.2 L371.9,442.2 L372.2,441.4 L372.5,442.5 L372.8,441.8 L373.2,441.3 L373.5,442.1 L373.8,442.4 L374.1,442.4 L374.4,442.2 L374.7,441.3 L375,443.1 L375.3,442 L375.6,440.2 L375.9,440.5 L376.2,442.4 L376.6,439.8 L376.9,440.9 L377.2,439.8 L377.5,441.6 L377.8,441.9 L378.1,442.4 L378.4,440.3 L378.7,441.7 L379,441.8 L379.3,440.7 L379.7,440.2 L380,441.5 L380.3,440.3 L380.6,444.1 L380.9,442.9 L381.2,435.4 L381.5,430.6 L381.8,426.5 L382.1,424.1 L382.4,421.3 L382.8,419.4 L383.1,417.4 L383.4,415.6 L383.7,413.7 L384,411.4 L384.3,409.1 L384.6,407.1 L384.9,404.9 L385.2,402.8 L385.5,400.6 L385.8,398.4 L386.2,396.4 L386.5,394.6 L386.8,392.5 L387.1,390.8 L387.4,389.1 L387.7,387.6 L388,386.1 L388.3,384.7 L388.6,383.6 L388.9,382.6 L389.3,381.7 L389.6,380.9 L389.9,380.4 L390.2,379.9 L390.5,379.5 L390.8,379.4 L391.1,379.7 L391.4,380 L391.7,380.4 L392,380.7 L392.4,381.2 L392.7,381.6 L393,382.1 L393.3,382.5 L393.6,383.1 L393.9,383.6 L394.2,384.1 L394.5,384.7 L394.8,385.4 L395.1,386.1 L395.5,386.8 L395.8,387.7 L396.1,388.7 L396.4,389.7 L396.7,390.6 L397,391.7 L397.3,392.6 L397.6,393.6 L397.9,394.4 L398.2,395.2 L398.5,396 L398.9,396.7 L399.2,397.7 L399.5,398.5 L399.8,399.3 L400.1,400.1 L400.4,400.8 L400.7,401.7 L401,402.4 L401.3,403.2 L401.6,403.9 L402,404.6 L402.3,405.6 L402.6,406.3 L402.9,407.1 L403.2,407.7 L403.5,408.3 L403.8,409.3 L404.1,409.8 L404.4,410.5 L404.7,411.3 L405.1,412.1 L405.4,413.1 L405.7,413.5 L406,414.2 L406.3,415 L406.6,415.5 L406.9,416.5 L407.2,416.9 L407.5,418.3 L407.8,418.8 L408.1,419.6 L408.5,420.2 L408.8,420.9 L409.1,422 L409.4,422.8 L409.7,423.1 L410,424 L410.3,423.8 L410.6,424.8 L410.9,425.4 L411.2,426.5 L411.6,426.6 L411.9,427.7 L412.2,428.3 L412.5,429.1 L412.8,429.1 L413.1,429.8 L413.4,430.8 L413.7,430 L414,432.1 L414.3,431.5 L414.7,433 L415,433.3 L415.3,433.6 L415.6,433.7 L415.9,434.2 L416.2,435.8 L416.5,434.5 L416.8,435.7 L417.1,436.5 L417.4,436.4 L417.8,436.7 L418.1,438.8 L418.4,438.2 L418.7,437.2 L419,439.7 L419.3,439.9 L419.6,441 L419.9,441.1 L420.2,440.4 L420.5,440.9 L420.8,442.1 L421.2,442.1 L421.5,442.8 L421.8,443.8 L422.1,442.6 L422.4,443.3 L422.7,443.2 L423,444.4 L423.3,445 L423.6,444.3" fill="none" stroke="#3ea274" stroke-width="0.9" stroke-linejoin="round"/>
<path d="M328.6,433.1 L328.9,431.6 L329.2,433.2 L329.5,432.4 L329.8,432.4 L330.1,432.4 L330.4,431.9 L330.7,431.3 L331,432.5 L331.3,433 L331.6,432 L332,431.7 L332.3,431.9 L332.6,432.7 L332.9,431.4 L333.2,431.3 L333.5,432.3 L333.8,432.5 L334.1,432.2 L334.4,431.7 L334.7,432.6 L335.1,431.6 L335.4,432.4 L335.7,432.4 L336,431.4 L336.3,431.4 L336.6,431.1 L336.9,431.8 L337.2,431.7 L337.5,429.5 L337.8,430.2 L338.2,429.5 L338.5,428.7 L338.8,429.6 L339.1,429.5 L339.4,429.7 L339.7,429.6 L340,430.3 L340.3,430.3 L340.6,430 L340.9,431 L341.2,430.9 L341.6,431.1 L341.9,430.7 L342.2,431.2 L342.5,431.7 L342.8,430.1 L343.1,431.8 L343.4,431.9 L343.7,430.5 L344,430.7 L344.3,431.7 L344.7,432 L345,431.6 L345.3,431.2 L345.6,431.3 L345.9,430.5 L346.2,431 L346.5,430.7 L346.8,431.6 L347.1,431.2 L347.4,430 L347.8,431.1 L348.1,430.9 L348.4,430.3 L348.7,430.8 L349,431.2 L349.3,430.1 L349.6,430.6 L349.9,430.2 L350.2,429.9 L350.5,430.4 L350.9,430.5 L351.2,430.3 L351.5,430.1 L351.8,430.4 L352.1,429.9 L352.4,429.9 L352.7,429.9 L353,429.9 L353.3,430 L353.6,430.1 L353.9,429.6 L354.3,430.8 L354.6,430.1 L354.9,430.1 L355.2,430.4 L355.5,429.9 L355.8,429.2 L356.1,430 L356.4,430.1 L356.7,429.9 L357,429.2 L357.4,429.4 L357.7,430.2 L358,430.1 L358.3,430.1 L358.6,429.1 L358.9,429.5 L359.2,429.3 L359.5,429.7 L359.8,430.3 L360.1,430.3 L360.5,429.9 L360.8,429.3 L361.1,429.3 L361.4,429.8 L361.7,429.1 L362,429.3 L362.3,429.3 L362.6,429.4 L362.9,428.9 L363.2,428.9 L363.5,429.1 L363.9,429.3 L364.2,428.6 L364.5,428.8 L364.8,428.6 L365.1,429.5 L365.4,429.2 L365.7,429.5 L366,429.3 L366.3,428.9 L366.6,428.7 L367,428.9 L367.3,429.7 L367.6,428.5 L367.9,428.9 L368.2,428.7 L368.5,427.9 L368.8,428.3 L369.1,428.4 L369.4,428 L369.7,428.5 L370.1,427.9 L370.4,428.4 L370.7,429 L371,428.3 L371.3,427.9 L371.6,428.2 L371.9,428.3 L372.2,428.3 L372.5,428.3 L372.8,428.4 L373.2,428.3 L373.5,428.2 L373.8,427.9 L374.1,428 L374.4,428.1 L374.7,428.1 L375,428 L375.3,427.9 L375.6,427.8 L375.9,428.4 L376.2,427.8 L376.6,427.9 L376.9,428.3 L377.2,427.7 L377.5,428.1 L377.8,427.3 L378.1,427.8 L378.4,428 L378.7,427.2 L379,427.1 L379.3,428 L379.7,427.2 L380,427.4 L380.3,427.4 L380.6,431.2 L380.9,431.4 L381.2,424.9 L381.5,419.7 L381.8,416 L382.1,412.8 L382.4,410.6 L382.8,408.2 L383.1,406.6 L383.4,404.6 L383.7,402.6 L384,400.5 L384.3,398.3 L384.6,396.1 L384.9,394 L385.2,391.9 L385.5,389.6 L385.8,387.7 L386.2,385.6 L386.5,383.5 L386.8,381.7 L387.1,379.9 L387.4,378.3 L387.7,376.6 L388,375.1 L388.3,373.8 L388.6,372.7 L388.9,371.7 L389.3,370.8 L389.6,370 L389.9,369.4 L390.2,369 L390.5,368.6 L390.8,368.5 L391.1,368.8 L391.4,369.1 L391.7,369.5 L392,369.9 L392.4,370.4 L392.7,370.8 L393,371.3 L393.3,371.8 L393.6,372.3 L393.9,372.9 L394.2,373.5 L394.5,374.1 L394.8,374.8 L395.1,375.5 L395.5,376.3 L395.8,377.2 L396.1,378.2 L396.4,379.2 L396.7,380.2 L397,381.3 L397.3,382.3 L397.6,383.3 L397.9,384.2 L398.2,385.1 L398.5,385.9 L398.9,386.9 L399.2,387.8 L399.5,388.5 L399.8,389.4 L400.1,390.2 L400.4,391.1 L400.7,391.8 L401,392.6 L401.3,393.4 L401.6,394.3 L402,395.1 L402.3,395.9 L402.6,396.6 L402.9,397.5 L403.2,398.3 L403.5,399.1 L403.8,399.7 L404.1,400.5 L404.4,401.3 L404.7,402.1 L405.1,402.8 L405.4,403.6 L405.7,404.4 L406,405.3 L406.3,405.9 L406.6,406.6 L406.9,407.5 L407.2,408.3 L407.5,408.9 L407.8,409.8 L408.1,410.7 L408.5,411.4 L408.8,412.3 L409.1,413.1 L409.4,413.6 L409.7,414.6 L410,415.3 L410.3,415.5 L410.6,416.5 L410.9,417.3 L411.2,417.6 L411.6,418.2 L411.9,419.2 L412.2,419.4 L412.5,420.4 L412.8,421 L413.1,421.4 L413.4,421.7 L413.7,423.3 L414,422.8 L414.3,423.7 L414.7,423.8 L415,424 L415.3,425.2 L415.6,425.2 L415.9,426.3 L416.2,427.1 L416.5,427.6 L416.8,428.3 L417.1,428 L417.4,428.5 L417.8,428.8 L418.1,429.7 L418.4,429.8 L418.7,430.7 L419,431.2 L419.3,431.5 L419.6,432.1 L419.9,432 L420.2,432.7 L420.5,433.3 L420.8,434.4 L421.2,433.5 L421.5,433.8 L421.8,434.3 L422.1,435 L422.4,435.1 L422.7,435.7 L423,436.4 L423.3,436.3 L423.6,437.1" fill="none" stroke="#a88ad4" stroke-width="0.9" stroke-linejoin="round"/>
<line x1="328.6" y1="480.3" x2="331.6" y2="480.3" stroke="#2b2b2b" stroke-width="0.9"/>
<line x1="328.6" y1="460.1" x2="331.6" y2="460.1" stroke="#2b2b2b" stroke-width="0.9"/>
<line x1="328.6" y1="439.9" x2="331.6" y2="439.9" stroke="#2b2b2b" stroke-width="0.9"/>
<line x1="328.6" y1="419.7" x2="331.6" y2="419.7" stroke="#2b2b2b" stroke-width="0.9"/>
<line x1="328.6" y1="399.5" x2="331.6" y2="399.5" stroke="#2b2b2b" stroke-width="0.9"/>
<line x1="328.6" y1="379.3" x2="331.6" y2="379.3" stroke="#2b2b2b" stroke-width="0.9"/>
<line x1="328.6" y1="359.1" x2="331.6" y2="359.1" stroke="#2b2b2b" stroke-width="0.9"/>
<line x1="328.6" y1="480.3" x2="328.6" y2="478.3" stroke="#2b2b2b" stroke-width="0.9"/>
<line x1="340.5" y1="480.3" x2="340.5" y2="478.3" stroke="#2b2b2b" stroke-width="0.9"/>
<line x1="352.4" y1="480.3" x2="352.4" y2="477.3" stroke="#2b2b2b" stroke-width="0.9"/>
<line x1="364.3" y1="480.3" x2="364.3" y2="478.3" stroke="#2b2b2b" stroke-width="0.9"/>
<line x1="376.2" y1="480.3" x2="376.2" y2="478.3" stroke="#2b2b2b" stroke-width="0.9"/>
<line x1="388.1" y1="480.3" x2="388.1" y2="477.3" stroke="#2b2b2b" stroke-width="0.9"/>
<line x1="400" y1="480.3" x2="400" y2="478.3" stroke="#2b2b2b" stroke-width="0.9"/>
<line x1="411.9" y1="480.3" x2="411.9" y2="478.3" stroke="#2b2b2b" stroke-width="0.9"/>
<line x1="423.9" y1="480.3" x2="423.9" y2="477.3" stroke="#2b2b2b" stroke-width="0.9"/>
<rect x="328.6" y="358.8" width="95.3" height="121.5" fill="none" stroke="#2b2b2b" stroke-width="1.1"/>
<text x="326.6" y="483.9" font-size="10" text-anchor="end" fill="#1a1a1a" stroke="#1a1a1a" stroke-width="0.1">10<tspan font-size="6.8" dy="-4.2">0</tspan></text>
<text x="326.6" y="463.7" font-size="10" text-anchor="end" fill="#1a1a1a" stroke="#1a1a1a" stroke-width="0.1">10<tspan font-size="6.8" dy="-4.2">1</tspan></text>
<text x="326.6" y="443.5" font-size="10" text-anchor="end" fill="#1a1a1a" stroke="#1a1a1a" stroke-width="0.1">10<tspan font-size="6.8" dy="-4.2">2</tspan></text>
<text x="326.6" y="423.3" font-size="10" text-anchor="end" fill="#1a1a1a" stroke="#1a1a1a" stroke-width="0.1">10<tspan font-size="6.8" dy="-4.2">3</tspan></text>
<text x="326.6" y="403.1" font-size="10" text-anchor="end" fill="#1a1a1a" stroke="#1a1a1a" stroke-width="0.1">10<tspan font-size="6.8" dy="-4.2">4</tspan></text>
<text x="326.6" y="382.9" font-size="10" text-anchor="end" fill="#1a1a1a" stroke="#1a1a1a" stroke-width="0.1">10<tspan font-size="6.8" dy="-4.2">5</tspan></text>
<text x="326.6" y="362.7" font-size="10" text-anchor="end" fill="#1a1a1a" stroke="#1a1a1a" stroke-width="0.1">10<tspan font-size="6.8" dy="-4.2">6</tspan></text>
<text x="352.4" y="488.3" font-size="10" text-anchor="middle" fill="#1a1a1a" stroke="#1a1a1a" stroke-width="0.1">300</text>
<text x="388.1" y="488.3" font-size="10" text-anchor="middle" fill="#1a1a1a" stroke="#1a1a1a" stroke-width="0.1">450</text>
<text x="423.9" y="488.3" font-size="10" text-anchor="middle" fill="#1a1a1a" stroke="#1a1a1a" stroke-width="0.1">600</text>
<text x="374.7" y="503.8" font-size="12.8" text-anchor="middle" fill="#1a1a1a" stroke="#1a1a1a" stroke-width="0.25">Wavelength (nm)</text>
<line x1="333.1" y1="367.2" x2="340.6" y2="367.2" stroke="#9a88b0" stroke-width="1.3"/>
<text x="348.4" y="370.8" font-size="9.7" text-anchor="start" fill="#1a1a1a" stroke="#1a1a1a" stroke-width="0.1">50A/cm<tspan font-size="6.6" dy="-4.1">2</tspan></text>
<line x1="333.1" y1="380.6" x2="340.6" y2="380.6" stroke="#5a9078" stroke-width="1.3"/>
<text x="348.4" y="384.2" font-size="9.7" text-anchor="start" fill="#1a1a1a" stroke="#1a1a1a" stroke-width="0.1">20A/cm<tspan font-size="6.6" dy="-4.1">2</tspan></text>
<line x1="333.1" y1="394" x2="340.6" y2="394" stroke="#4a64a8" stroke-width="1.3"/>
<text x="348.4" y="397.6" font-size="9.7" text-anchor="start" fill="#1a1a1a" stroke="#1a1a1a" stroke-width="0.1">10A/cm<tspan font-size="6.6" dy="-4.1">2</tspan></text>
<line x1="333.1" y1="407.4" x2="340.6" y2="407.4" stroke="#d0707c" stroke-width="1.3"/>
<text x="348.4" y="411" font-size="9.7" text-anchor="start" fill="#1a1a1a" stroke="#1a1a1a" stroke-width="0.1">5A/cm<tspan font-size="6.6" dy="-4.1">2</tspan></text>
<line x1="333.1" y1="420.8" x2="340.6" y2="420.8" stroke="#404040" stroke-width="1.3"/>
<text x="348.4" y="424.4" font-size="9.7" text-anchor="start" fill="#1a1a1a" stroke="#1a1a1a" stroke-width="0.1">1A/cm<tspan font-size="6.6" dy="-4.1">2</tspan></text>
</svg></body></html>
